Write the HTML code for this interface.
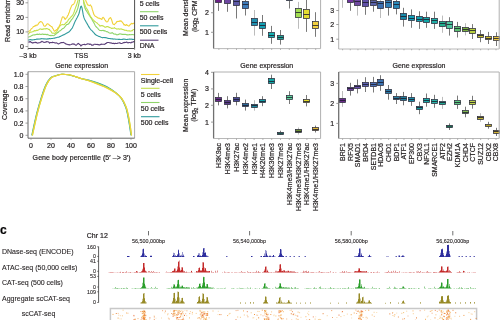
<!DOCTYPE html>
<html><head><meta charset="utf-8"><style>
html,body{margin:0;padding:0;background:#fff;}
svg{display:block;font-family:"Liberation Sans", sans-serif;will-change:transform;}
text{stroke:#231f20;stroke-width:0.2px;}
</style></head><body>
<svg width="500" height="320" viewBox="0 0 500 320">
<defs>
<clipPath id="clipA"><rect x="28" y="0" width="106.6" height="48.5"/></clipPath>
<clipPath id="clipP1"><rect x="0" y="0" width="500" height="48.5"/></clipPath>
</defs>
<rect width="500" height="320" fill="#fff"/>
<g clip-path="url(#clipA)">
<polyline points="28.00,42.20 28.60,42.05 29.20,41.68 29.80,42.18 30.40,41.49 31.00,42.06 31.60,42.67 32.20,42.54 32.80,43.14 33.40,42.53 34.00,42.74 34.60,42.54 35.20,42.10 35.80,42.60 36.40,42.42 37.00,42.95 37.60,43.09 38.20,42.93 38.80,42.68 39.40,42.81 40.00,42.73 40.60,42.13 41.20,42.04 41.80,41.34 42.40,41.62 43.00,41.80 43.60,42.30 44.20,42.42 44.80,42.29 45.40,42.16 46.00,42.19 46.60,41.52 47.20,41.70 47.80,41.79 48.40,42.07 49.00,42.34 49.60,43.20 50.20,42.59 50.80,42.56 51.40,42.53 52.00,42.74 52.60,42.16 53.20,42.46 53.80,42.54 54.40,42.79 55.00,42.90 55.60,43.09 56.20,42.78 56.80,43.04 57.40,43.19 58.00,43.78 58.60,44.04 59.20,43.64 59.80,43.28 60.40,42.95 61.00,42.60 61.60,42.44 62.20,42.61 62.80,42.46 63.40,42.36 64.00,42.78 64.60,43.02 65.20,43.45 65.80,44.02 66.40,44.10 67.00,44.20 67.60,44.51 68.20,44.79 68.80,44.54 69.40,45.04 70.00,44.79 70.60,44.71 71.20,44.49 71.80,44.13 72.40,44.09 73.00,43.81 73.60,44.16 74.20,44.09 74.80,44.46 75.40,44.94 76.00,45.27 76.60,44.94 77.20,44.26 77.80,43.75 78.40,43.41 79.00,43.86 79.60,44.56 80.20,44.79 80.80,45.95 81.40,45.50 82.00,44.89 82.60,44.72 83.20,44.53 83.80,44.51 84.40,44.28 85.00,44.77 85.60,44.78 86.20,44.33 86.80,44.28 87.40,43.90 88.00,43.83 88.60,44.06 89.20,44.05 89.80,44.54 90.40,44.10 91.00,44.24 91.60,45.21 92.20,45.14 92.80,45.10 93.40,45.04 94.00,44.27 94.60,44.29 95.20,44.27 95.80,44.38 96.40,44.45 97.00,44.32 97.60,44.59 98.20,44.45 98.80,44.92 99.40,44.73 100.00,44.92 100.60,44.39 101.20,44.12 101.80,44.38 102.40,44.32 103.00,44.26 103.60,44.27 104.20,44.33 104.80,44.31 105.40,43.59 106.00,43.50 106.60,43.05 107.20,42.48 107.80,42.43 108.40,42.57 109.00,42.51 109.60,42.80 110.20,43.05 110.80,42.71 111.40,43.14 112.00,43.23 112.60,43.45 113.20,43.24 113.80,43.37 114.40,43.62 115.00,43.44 115.60,43.29 116.20,43.46 116.80,43.51 117.40,43.38 118.00,43.01 118.60,43.06 119.20,43.07 119.80,42.63 120.40,43.18 121.00,43.47 121.60,43.46 122.20,43.29 122.80,42.94 123.40,42.56 124.00,42.88 124.60,42.37 125.20,42.57 125.80,42.54 126.40,41.94 127.00,42.15 127.60,42.78 128.20,42.83 128.80,42.63 129.40,42.51 130.00,42.45 130.60,42.95 131.20,42.80 131.80,42.02 132.40,42.27 133.00,42.12 133.60,41.60 134.20,41.52 134.80,41.84" fill="none" stroke="#5b3f78" stroke-width="1.1" stroke-linejoin="round"/>
<polyline points="28.00,40.11 28.60,40.05 29.20,39.83 29.80,39.77 30.40,39.64 31.00,39.73 31.60,39.85 32.20,39.88 32.80,39.98 33.40,39.82 34.00,39.80 34.60,39.60 35.20,39.51 35.80,39.42 36.40,39.16 37.00,39.14 37.60,39.15 38.20,39.13 38.80,38.97 39.40,38.99 40.00,39.09 40.60,38.87 41.20,38.80 41.80,38.65 42.40,38.70 43.00,38.80 43.60,38.91 44.20,38.81 44.80,39.03 45.40,39.02 46.00,38.90 46.60,39.09 47.20,39.11 47.80,38.83 48.40,38.90 49.00,38.66 49.60,38.56 50.20,38.68 50.80,38.62 51.40,38.43 52.00,38.46 52.60,38.43 53.20,38.32 53.80,38.21 54.40,38.14 55.00,38.10 55.60,37.78 56.20,37.74 56.80,37.52 57.40,37.29 58.00,37.21 58.60,37.13 59.20,36.93 59.80,36.52 60.40,36.44 61.00,36.08 61.60,35.81 62.20,35.36 62.80,35.16 63.40,34.87 64.00,34.81 64.60,34.36 65.20,33.97 65.80,33.65 66.40,33.36 67.00,33.08 67.60,32.65 68.20,32.31 68.80,32.15 69.40,31.47 70.00,30.88 70.60,30.06 71.20,29.28 71.80,28.67 72.40,27.67 73.00,26.36 73.60,25.12 74.20,23.53 74.80,22.13 75.40,20.70 76.00,19.73 76.60,18.45 77.20,17.56 77.80,16.33 78.40,15.06 79.00,13.50 79.60,11.24 80.20,8.54 80.80,6.52 81.40,6.14 82.00,7.76 82.60,11.05 83.20,14.70 83.80,17.16 84.40,18.73 85.00,20.03 85.60,21.10 86.20,22.25 86.80,23.14 87.40,24.23 88.00,25.27 88.60,26.40 89.20,27.34 89.80,28.31 90.40,29.01 91.00,29.80 91.60,30.37 92.20,30.88 92.80,31.54 93.40,32.39 94.00,32.89 94.60,33.74 95.20,34.28 95.80,34.77 96.40,35.26 97.00,35.51 97.60,35.83 98.20,36.13 98.80,36.42 99.40,36.45 100.00,36.73 100.60,37.00 101.20,37.26 101.80,37.45 102.40,37.68 103.00,37.59 103.60,37.57 104.20,37.51 104.80,37.63 105.40,37.63 106.00,37.72 106.60,37.83 107.20,38.14 107.80,38.28 108.40,38.38 109.00,38.43 109.60,38.56 110.20,38.64 110.80,38.74 111.40,38.73 112.00,38.85 112.60,38.85 113.20,39.05 113.80,39.08 114.40,39.00 115.00,39.02 115.60,39.28 116.20,39.19 116.80,39.27 117.40,39.21 118.00,39.33 118.60,39.38 119.20,39.41 119.80,39.39 120.40,39.51 121.00,39.44 121.60,39.54 122.20,39.39 122.80,39.34 123.40,39.14 124.00,39.01 124.60,39.16 125.20,39.21 125.80,39.37 126.40,39.43 127.00,39.43 127.60,39.34 128.20,39.29 128.80,39.27 129.40,39.15 130.00,39.13 130.60,39.29 131.20,39.08 131.80,39.30 132.40,39.36 133.00,39.30 133.60,39.57 134.20,39.54 134.80,39.43" fill="none" stroke="#2f9a9c" stroke-width="1.1" stroke-linejoin="round"/>
<polyline points="28.00,37.02 28.60,37.15 29.20,36.79 29.80,36.79 30.40,36.36 31.00,35.96 31.60,35.64 32.20,35.43 32.80,35.01 33.40,34.97 34.00,34.74 34.60,34.84 35.20,34.79 35.80,34.63 36.40,34.29 37.00,34.55 37.60,34.05 38.20,34.46 38.80,34.46 39.40,34.00 40.00,34.28 40.60,34.40 41.20,34.44 41.80,34.16 42.40,34.07 43.00,34.09 43.60,34.54 44.20,34.23 44.80,34.51 45.40,34.27 46.00,34.47 46.60,34.69 47.20,34.24 47.80,34.79 48.40,34.82 49.00,35.26 49.60,35.44 50.20,35.29 50.80,35.73 51.40,35.59 52.00,35.39 52.60,35.43 53.20,35.67 53.80,35.53 54.40,35.23 55.00,34.70 55.60,34.32 56.20,33.78 56.80,33.50 57.40,32.58 58.00,32.46 58.60,31.97 59.20,31.05 59.80,31.03 60.40,30.46 61.00,30.10 61.60,29.32 62.20,28.95 62.80,28.56 63.40,28.47 64.00,27.83 64.60,27.07 65.20,26.44 65.80,25.68 66.40,24.86 67.00,24.54 67.60,24.56 68.20,23.90 68.80,23.84 69.40,22.67 70.00,21.84 70.60,21.11 71.20,20.04 71.80,19.33 72.40,18.79 73.00,17.84 73.60,16.83 74.20,15.70 74.80,14.77 75.40,13.73 76.00,12.55 76.60,11.57 77.20,9.86 77.80,8.37 78.40,5.83 79.00,3.04 79.60,-0.46 80.20,-6.35 80.80,-8.90 81.40,-9.57 82.00,-10.43 82.60,-9.72 83.20,-6.55 83.80,3.42 84.40,6.22 85.00,8.31 85.60,9.47 86.20,10.64 86.80,11.33 87.40,12.44 88.00,13.43 88.60,14.24 89.20,15.10 89.80,15.95 90.40,17.12 91.00,17.82 91.60,18.61 92.20,19.95 92.80,21.07 93.40,21.97 94.00,23.05 94.60,24.31 95.20,25.45 95.80,26.43 96.40,27.01 97.00,27.63 97.60,27.99 98.20,28.87 98.80,29.68 99.40,30.18 100.00,30.52 100.60,30.56 101.20,30.61 101.80,30.50 102.40,30.44 103.00,30.35 103.60,30.52 104.20,30.96 104.80,30.61 105.40,31.06 106.00,31.37 106.60,31.74 107.20,31.63 107.80,32.00 108.40,32.31 109.00,32.72 109.60,33.06 110.20,33.26 110.80,33.14 111.40,33.08 112.00,32.56 112.60,32.88 113.20,33.54 113.80,33.94 114.40,34.01 115.00,34.24 115.60,34.09 116.20,34.45 116.80,34.88 117.40,34.70 118.00,34.58 118.60,34.50 119.20,33.98 119.80,33.90 120.40,33.91 121.00,34.09 121.60,34.16 122.20,34.36 122.80,34.30 123.40,34.33 124.00,34.45 124.60,34.38 125.20,34.53 125.80,34.35 126.40,34.83 127.00,34.58 127.60,34.98 128.20,34.88 128.80,34.74 129.40,34.59 130.00,34.61 130.60,34.76 131.20,34.74 131.80,34.45 132.40,34.44 133.00,34.70 133.60,34.74 134.20,34.44 134.80,34.15" fill="none" stroke="#8fd46a" stroke-width="1.1" stroke-linejoin="round"/>
<polyline points="28.00,34.65 28.60,33.60 29.20,32.99 29.80,32.43 30.40,32.06 31.00,32.17 31.60,31.98 32.20,31.71 32.80,31.70 33.40,31.45 34.00,30.90 34.60,30.62 35.20,30.87 35.80,30.71 36.40,30.24 37.00,30.58 37.60,30.38 38.20,30.02 38.80,29.67 39.40,29.26 40.00,28.89 40.60,29.04 41.20,29.11 41.80,29.52 42.40,29.10 43.00,29.42 43.60,28.80 44.20,28.75 44.80,28.91 45.40,28.88 46.00,28.64 46.60,28.43 47.20,28.72 47.80,28.82 48.40,29.35 49.00,29.23 49.60,29.71 50.20,30.77 50.80,31.02 51.40,32.02 52.00,33.01 52.60,33.27 53.20,33.06 53.80,33.18 54.40,33.19 55.00,33.48 55.60,32.68 56.20,32.30 56.80,31.51 57.40,30.18 58.00,29.05 58.60,28.32 59.20,26.99 59.80,26.04 60.40,25.68 61.00,24.99 61.60,24.72 62.20,24.36 62.80,24.73 63.40,24.80 64.00,24.60 64.60,24.49 65.20,23.52 65.80,23.03 66.40,22.47 67.00,22.04 67.60,21.28 68.20,20.15 68.80,19.24 69.40,18.73 70.00,18.12 70.60,17.70 71.20,16.57 71.80,16.17 72.40,15.34 73.00,14.49 73.60,13.42 74.20,11.76 74.80,9.91 75.40,8.15 76.00,6.41 76.60,5.04 77.20,2.85 77.80,0.93 78.40,-1.11 79.00,-5.95 79.60,-8.98 80.20,-9.73 80.80,-9.71 81.40,-9.76 82.00,-8.78 82.60,-7.48 83.20,-0.47 83.80,1.66 84.40,3.45 85.00,5.04 85.60,6.67 86.20,7.80 86.80,8.69 87.40,9.62 88.00,10.74 88.60,12.29 89.20,13.70 89.80,15.06 90.40,16.38 91.00,17.18 91.60,17.70 92.20,18.92 92.80,19.35 93.40,20.15 94.00,20.63 94.60,21.40 95.20,21.61 95.80,22.11 96.40,22.55 97.00,22.91 97.60,23.67 98.20,24.18 98.80,24.65 99.40,25.26 100.00,26.16 100.60,25.82 101.20,25.60 101.80,25.84 102.40,25.63 103.00,26.19 103.60,26.02 104.20,26.62 104.80,27.21 105.40,27.14 106.00,27.11 106.60,26.52 107.20,26.59 107.80,26.64 108.40,26.82 109.00,27.42 109.60,27.29 110.20,27.82 110.80,27.79 111.40,28.38 112.00,28.41 112.60,28.15 113.20,28.30 113.80,28.25 114.40,27.60 115.00,28.22 115.60,28.58 116.20,28.69 116.80,29.15 117.40,28.94 118.00,28.92 118.60,28.90 119.20,29.08 119.80,29.15 120.40,28.93 121.00,28.87 121.60,29.10 122.20,29.50 122.80,29.39 123.40,29.64 124.00,29.73 124.60,30.29 125.20,30.33 125.80,30.20 126.40,30.35 127.00,30.65 127.60,30.85 128.20,30.98 128.80,30.72 129.40,30.83 130.00,31.20 130.60,31.07 131.20,31.04 131.80,30.63 132.40,30.59 133.00,29.79 133.60,29.53 134.20,29.45 134.80,29.56" fill="none" stroke="#c4e04a" stroke-width="1.1" stroke-linejoin="round"/>
<polyline points="28.00,31.78 28.60,31.40 29.20,31.12 29.80,30.78 30.40,30.25 31.00,29.20 31.60,28.49 32.20,28.10 32.80,27.55 33.40,26.49 34.00,26.56 34.60,26.35 35.20,25.33 35.80,25.85 36.40,25.08 37.00,25.23 37.60,24.95 38.20,24.17 38.80,23.11 39.40,22.49 40.00,22.00 40.60,21.57 41.20,21.72 41.80,21.99 42.40,22.69 43.00,23.73 43.60,25.38 44.20,26.03 44.80,26.24 45.40,26.11 46.00,25.46 46.60,24.52 47.20,23.70 47.80,24.02 48.40,24.06 49.00,24.63 49.60,25.57 50.20,25.62 50.80,26.24 51.40,26.62 52.00,26.70 52.60,28.26 53.20,28.90 53.80,30.42 54.40,31.27 55.00,31.05 55.60,30.35 56.20,30.20 56.80,29.43 57.40,29.16 58.00,27.64 58.60,27.24 59.20,26.27 59.80,24.98 60.40,23.68 61.00,21.11 61.60,19.41 62.20,17.33 62.80,16.77 63.40,16.92 64.00,17.27 64.60,18.70 65.20,19.41 65.80,18.48 66.40,17.93 67.00,17.30 67.60,15.67 68.20,15.03 68.80,13.29 69.40,11.97 70.00,9.73 70.60,8.26 71.20,6.87 71.80,5.43 72.40,4.77 73.00,4.63 73.60,4.29 74.20,3.28 74.80,2.16 75.40,-0.21 76.00,-3.43 76.60,-6.95 77.20,-8.04 77.80,-9.10 78.40,-8.95 79.00,-10.01 79.60,-10.07 80.20,-10.27 80.80,-10.68 81.40,-10.06 82.00,-10.01 82.60,-9.59 83.20,-8.86 83.80,-8.86 84.40,-6.56 85.00,-2.97 85.60,-0.04 86.20,1.87 86.80,2.76 87.40,4.45 88.00,5.08 88.60,5.10 89.20,5.62 89.80,5.41 90.40,4.80 91.00,5.82 91.60,6.65 92.20,9.19 92.80,10.82 93.40,13.03 94.00,14.73 94.60,15.38 95.20,16.25 95.80,16.55 96.40,16.80 97.00,17.27 97.60,17.81 98.20,18.12 98.80,17.98 99.40,18.19 100.00,18.72 100.60,18.67 101.20,19.11 101.80,19.42 102.40,17.93 103.00,17.28 103.60,17.81 104.20,18.47 104.80,19.76 105.40,20.39 106.00,21.39 106.60,21.93 107.20,21.86 107.80,21.56 108.40,20.32 109.00,18.80 109.60,18.43 110.20,17.51 110.80,17.98 111.40,19.16 112.00,21.02 112.60,23.11 113.20,24.20 113.80,24.42 114.40,24.64 115.00,23.80 115.60,23.55 116.20,22.66 116.80,21.63 117.40,21.62 118.00,21.26 118.60,21.55 119.20,21.41 119.80,20.75 120.40,21.23 121.00,20.72 121.60,21.47 122.20,22.13 122.80,22.83 123.40,23.55 124.00,24.97 124.60,24.60 125.20,25.15 125.80,25.40 126.40,24.50 127.00,24.94 127.60,25.60 128.20,25.79 128.80,26.11 129.40,25.75 130.00,24.70 130.60,24.25 131.20,23.67 131.80,23.31 132.40,23.84 133.00,23.61 133.60,23.44 134.20,22.92 134.80,23.77" fill="none" stroke="#f2d23a" stroke-width="1.1" stroke-linejoin="round"/>
</g>
<line x1="28.0" y1="0" x2="28.0" y2="48.5" stroke="#b0b0b0" stroke-width="0.8"/>
<line x1="28.0" y1="48.5" x2="134.6" y2="48.5" stroke="#3a3a3a" stroke-width="0.9"/>
<line x1="134.6" y1="0" x2="134.6" y2="48.5" stroke="#3a3a3a" stroke-width="0.9"/>
<line x1="25.5" y1="46.5" x2="28.0" y2="46.5" stroke="#888" stroke-width="0.8"/>
<text x="24" y="49.0" font-size="7" text-anchor="end" fill="#231f20" font-weight="normal">0</text>
<line x1="25.5" y1="31.9" x2="28.0" y2="31.9" stroke="#888" stroke-width="0.8"/>
<text x="24" y="34.4" font-size="7" text-anchor="end" fill="#231f20" font-weight="normal">10</text>
<line x1="25.5" y1="17.4" x2="28.0" y2="17.4" stroke="#888" stroke-width="0.8"/>
<text x="24" y="19.9" font-size="7" text-anchor="end" fill="#231f20" font-weight="normal">20</text>
<line x1="25.5" y1="2.8" x2="28.0" y2="2.8" stroke="#888" stroke-width="0.8"/>
<text x="24" y="5.3" font-size="7" text-anchor="end" fill="#231f20" font-weight="normal">30</text>
<line x1="28.0" y1="48.5" x2="28.0" y2="50.0" stroke="#888" stroke-width="0.8"/>
<line x1="81.4" y1="48.5" x2="81.4" y2="50.0" stroke="#888" stroke-width="0.8"/>
<line x1="134.6" y1="48.5" x2="134.6" y2="50.0" stroke="#888" stroke-width="0.8"/>
<text x="28" y="57.9" font-size="7" text-anchor="middle" fill="#231f20" font-weight="normal">–3 kb</text>
<text x="81.4" y="57.9" font-size="7" text-anchor="middle" fill="#231f20" font-weight="normal">TSS</text>
<text x="134.4" y="57.9" font-size="7" text-anchor="middle" fill="#231f20" font-weight="normal">3 kb</text>
<text x="10.5" y="41.9" font-size="7" text-anchor="start" fill="#231f20" font-weight="normal" transform="rotate(-90 10.5 41.9)">Read enrichment</text>
<line x1="140" y1="-2.5" x2="158.5" y2="-2.5" stroke="#c4e04a" stroke-width="1.1"/>
<line x1="140" y1="11.7" x2="158.5" y2="11.7" stroke="#8fd46a" stroke-width="1.1"/>
<line x1="140" y1="25.8" x2="158.5" y2="25.8" stroke="#2f9a9c" stroke-width="1.1"/>
<line x1="140" y1="40.2" x2="158.5" y2="40.2" stroke="#5b3f78" stroke-width="1.1"/>
<text x="139.7" y="5.8" font-size="7" text-anchor="start" fill="#231f20" font-weight="normal">5 cells</text>
<text x="139.7" y="20.1" font-size="7" text-anchor="start" fill="#231f20" font-weight="normal">50 cells</text>
<text x="139.7" y="34.4" font-size="7" text-anchor="start" fill="#231f20" font-weight="normal">500 cells</text>
<text x="139.7" y="47.7" font-size="7" text-anchor="start" fill="#231f20" font-weight="normal">DNA</text>
<text x="81.6" y="68.4" font-size="7" text-anchor="middle" fill="#231f20" font-weight="normal">Gene expression</text>
<path d="M31.799999999999997,135.2999999997482 C32.63,131.58 35.22,119.33 36.80,113.00 C38.38,106.67 39.80,101.98 41.30,97.30 C42.80,92.62 44.30,88.10 45.80,84.90 C47.30,81.70 48.80,79.60 50.30,78.10 C51.80,76.60 52.93,76.53 54.80,75.90 C56.67,75.27 59.25,74.48 61.50,74.30 C63.75,74.12 66.05,74.42 68.30,74.80 C70.55,75.17 72.75,75.92 75.00,76.57 C77.25,77.22 79.55,78.10 81.80,78.69 C84.05,79.28 85.88,79.44 88.50,80.12 C91.12,80.79 94.50,81.67 97.50,82.74 C100.50,83.82 103.50,84.93 106.50,86.56 C109.50,88.20 113.05,90.59 115.50,92.55 C117.95,94.50 119.50,95.83 121.20,98.29 C122.90,100.76 124.58,104.34 125.70,107.36 C126.82,110.37 127.27,113.37 127.90,116.37 C128.53,119.38 129.00,122.23 129.50,125.38 C130.00,128.53 130.67,133.64 130.90,135.29" fill="none" stroke="#2f9a9c" stroke-width="1.1"/>
<path d="M32.099999999999994,135.300000000042 C32.93,131.58 35.52,119.33 37.10,113.00 C38.68,106.67 40.10,101.98 41.60,97.30 C43.10,92.62 44.60,88.10 46.10,84.90 C47.60,81.70 49.10,79.60 50.60,78.10 C52.10,76.60 53.23,76.53 55.10,75.90 C56.97,75.27 59.55,74.48 61.80,74.30 C64.05,74.12 66.35,74.42 68.60,74.80 C70.85,75.18 73.05,75.93 75.30,76.60 C77.55,77.27 79.85,78.18 82.10,78.82 C84.35,79.46 86.18,79.68 88.80,80.45 C91.42,81.21 94.80,82.27 97.80,83.39 C100.80,84.52 103.80,85.61 106.80,87.19 C109.80,88.76 113.35,90.97 115.80,92.84 C118.25,94.71 119.80,95.99 121.50,98.42 C123.20,100.85 124.88,104.41 126.00,107.41 C127.12,110.41 127.57,113.41 128.20,116.40 C128.83,119.40 129.30,122.25 129.80,125.40 C130.30,128.55 130.97,133.65 131.20,135.30" fill="none" stroke="#8fd46a" stroke-width="1.1"/>
<path d="M32.5,135.30000000033576 C33.33,131.58 35.92,119.33 37.50,113.00 C39.08,106.67 40.50,101.98 42.00,97.30 C43.50,92.62 45.00,88.10 46.50,84.90 C48.00,81.70 49.50,79.60 51.00,78.10 C52.50,76.60 53.63,76.53 55.50,75.90 C57.37,75.27 59.95,74.48 62.20,74.30 C64.45,74.12 66.75,74.42 69.00,74.81 C71.25,75.20 73.45,75.95 75.70,76.64 C77.95,77.32 80.25,78.25 82.50,78.94 C84.75,79.63 86.58,79.93 89.20,80.78 C91.82,81.63 95.20,82.87 98.20,84.05 C101.20,85.22 104.20,86.30 107.20,87.82 C110.20,89.33 113.75,91.35 116.20,93.13 C118.65,94.92 120.20,96.16 121.90,98.54 C123.60,100.93 125.28,104.48 126.40,107.46 C127.52,110.44 127.97,113.44 128.60,116.44 C129.23,119.43 129.70,122.28 130.20,125.42 C130.70,128.57 131.37,133.67 131.60,135.32" fill="none" stroke="#c4e04a" stroke-width="1.1"/>
<path d="M32.4,135.30000000050364 C33.23,131.58 35.82,119.33 37.40,113.00 C38.98,106.67 40.40,101.98 41.90,97.30 C43.40,92.62 44.90,88.10 46.40,84.90 C47.90,81.70 49.40,79.60 50.90,78.10 C52.40,76.60 53.53,76.53 55.40,75.90 C57.27,75.27 59.85,74.48 62.10,74.30 C64.35,74.12 66.65,74.42 68.90,74.81 C71.15,75.20 73.35,75.95 75.60,76.65 C77.85,77.35 80.15,78.29 82.40,79.01 C84.65,79.73 86.48,80.07 89.10,80.97 C91.72,81.87 95.10,83.22 98.10,84.42 C101.10,85.62 104.10,86.69 107.10,88.17 C110.10,89.65 113.65,91.56 116.10,93.30 C118.55,95.04 120.10,96.25 121.80,98.61 C123.50,100.98 125.18,104.52 126.30,107.49 C127.42,110.46 127.87,113.46 128.50,116.45 C129.13,119.45 129.60,122.29 130.10,125.44 C130.60,128.58 131.27,133.68 131.50,135.33" fill="none" stroke="#f2d23a" stroke-width="1.1"/>
<line x1="28.0" y1="71.7" x2="134.6" y2="71.7" stroke="#a0a0a0" stroke-width="0.9"/>
<line x1="134.6" y1="71.7" x2="134.6" y2="138.2" stroke="#a0a0a0" stroke-width="0.9"/>
<line x1="28.0" y1="71.7" x2="28.0" y2="138.2" stroke="#555" stroke-width="0.9"/>
<line x1="28.0" y1="138.2" x2="134.6" y2="138.2" stroke="#555" stroke-width="0.9"/>
<line x1="25.5" y1="74.3" x2="28.0" y2="74.3" stroke="#888" stroke-width="0.8"/>
<text x="23.5" y="76.8" font-size="7" text-anchor="end" fill="#231f20" font-weight="normal">1.0</text>
<line x1="25.5" y1="86.5" x2="28.0" y2="86.5" stroke="#888" stroke-width="0.8"/>
<text x="23.5" y="89.0" font-size="7" text-anchor="end" fill="#231f20" font-weight="normal">0.8</text>
<line x1="25.5" y1="98.69999999999999" x2="28.0" y2="98.69999999999999" stroke="#888" stroke-width="0.8"/>
<text x="23.5" y="101.19999999999999" font-size="7" text-anchor="end" fill="#231f20" font-weight="normal">0.6</text>
<line x1="25.5" y1="110.89999999999999" x2="28.0" y2="110.89999999999999" stroke="#888" stroke-width="0.8"/>
<text x="23.5" y="113.39999999999999" font-size="7" text-anchor="end" fill="#231f20" font-weight="normal">0.4</text>
<line x1="25.5" y1="123.1" x2="28.0" y2="123.1" stroke="#888" stroke-width="0.8"/>
<text x="23.5" y="125.6" font-size="7" text-anchor="end" fill="#231f20" font-weight="normal">0.2</text>
<line x1="25.5" y1="135.3" x2="28.0" y2="135.3" stroke="#888" stroke-width="0.8"/>
<text x="23.5" y="137.8" font-size="7" text-anchor="end" fill="#231f20" font-weight="normal">0</text>
<line x1="31" y1="138.2" x2="31" y2="139.7" stroke="#888" stroke-width="0.8"/>
<text x="31" y="148.1" font-size="7" text-anchor="middle" fill="#231f20" font-weight="normal">0</text>
<line x1="51" y1="138.2" x2="51" y2="139.7" stroke="#888" stroke-width="0.8"/>
<text x="51" y="148.1" font-size="7" text-anchor="middle" fill="#231f20" font-weight="normal">20</text>
<line x1="71" y1="138.2" x2="71" y2="139.7" stroke="#888" stroke-width="0.8"/>
<text x="71" y="148.1" font-size="7" text-anchor="middle" fill="#231f20" font-weight="normal">40</text>
<line x1="91" y1="138.2" x2="91" y2="139.7" stroke="#888" stroke-width="0.8"/>
<text x="91" y="148.1" font-size="7" text-anchor="middle" fill="#231f20" font-weight="normal">60</text>
<line x1="111" y1="138.2" x2="111" y2="139.7" stroke="#888" stroke-width="0.8"/>
<text x="111" y="148.1" font-size="7" text-anchor="middle" fill="#231f20" font-weight="normal">80</text>
<line x1="131" y1="138.2" x2="131" y2="139.7" stroke="#888" stroke-width="0.8"/>
<text x="131" y="148.1" font-size="7" text-anchor="middle" fill="#231f20" font-weight="normal">100</text>
<text x="81.6" y="159.8" font-size="7" text-anchor="middle" fill="#231f20" font-weight="normal" textLength="98" lengthAdjust="spacing">Gene body percentile (5′ –&gt; 3′)</text>
<text x="7.0" y="104.8" font-size="7" text-anchor="middle" fill="#231f20" font-weight="normal" transform="rotate(-90 7.0 104.8)">Coverage</text>
<line x1="141" y1="74.5" x2="159.5" y2="74.5" stroke="#f2d23a" stroke-width="1.1"/>
<line x1="141" y1="88.3" x2="159.5" y2="88.3" stroke="#c4e04a" stroke-width="1.1"/>
<line x1="141" y1="102.5" x2="159.5" y2="102.5" stroke="#8fd46a" stroke-width="1.1"/>
<line x1="141" y1="116.7" x2="159.5" y2="116.7" stroke="#2f9a9c" stroke-width="1.1"/>
<text x="140.8" y="83" font-size="7" text-anchor="start" fill="#231f20" font-weight="normal">Single-cell</text>
<text x="140.8" y="97" font-size="7" text-anchor="start" fill="#231f20" font-weight="normal">5 cells</text>
<text x="140.8" y="111.2" font-size="7" text-anchor="start" fill="#231f20" font-weight="normal">50 cells</text>
<text x="140.8" y="125" font-size="7" text-anchor="start" fill="#231f20" font-weight="normal">500 cells</text>
<g clip-path="url(#clipP1)">
<line x1="218.5" y1="-20" x2="218.5" y2="-10" stroke="#6a6a6a" stroke-width="0.9"/>
<line x1="218.5" y1="2.5" x2="218.5" y2="10.9" stroke="#6a6a6a" stroke-width="0.9"/>
<rect x="215.50" y="-9.5" width="6.0" height="12.00" fill="#6a1f85" stroke="#2a2a3a" stroke-width="0.75"/>
<line x1="215.5" y1="-2.5" x2="221.5" y2="-2.5" stroke="#1a1a2a" stroke-width="0.8"/>
<line x1="227.5" y1="-20" x2="227.5" y2="-10" stroke="#6a6a6a" stroke-width="0.9"/>
<line x1="227.5" y1="3.5" x2="227.5" y2="11.8" stroke="#6a6a6a" stroke-width="0.9"/>
<rect x="224.50" y="-9.5" width="6.0" height="13.00" fill="#6e46a2" stroke="#2a2a3a" stroke-width="0.75"/>
<line x1="224.5" y1="-2.5" x2="230.5" y2="-2.5" stroke="#1a1a2a" stroke-width="0.8"/>
<line x1="236.5" y1="-20" x2="236.5" y2="-6" stroke="#6a6a6a" stroke-width="0.9"/>
<line x1="236.5" y1="5.4" x2="236.5" y2="18.5" stroke="#6a6a6a" stroke-width="0.9"/>
<rect x="233.50" y="-5.5" width="6.0" height="11.00" fill="#5e5aa8" stroke="#2a2a3a" stroke-width="0.75"/>
<line x1="233.5" y1="1.5" x2="239.5" y2="1.5" stroke="#1a1a2a" stroke-width="0.8"/>
<line x1="245.5" y1="-2" x2="245.5" y2="1" stroke="#6a6a6a" stroke-width="0.9"/>
<line x1="245.5" y1="8.4" x2="245.5" y2="15.5" stroke="#6a6a6a" stroke-width="0.9"/>
<rect x="242.50" y="1.5" width="6.0" height="7.00" fill="#3d7ab8" stroke="#2a2a3a" stroke-width="0.75"/>
<line x1="242.5" y1="4.5" x2="248.5" y2="4.5" stroke="#1a1a2a" stroke-width="0.8"/>
<line x1="254.5" y1="10" x2="254.5" y2="18.3" stroke="#b4b4b4" stroke-width="0.9"/>
<line x1="254.5" y1="25.7" x2="254.5" y2="35.6" stroke="#b4b4b4" stroke-width="0.9"/>
<rect x="251.50" y="18.5" width="6.0" height="7.00" fill="#2090b0" stroke="#2a2a3a" stroke-width="0.75"/>
<line x1="251.5" y1="22.5" x2="257.5" y2="22.5" stroke="#1a1a2a" stroke-width="0.8"/>
<line x1="262.5" y1="15" x2="262.5" y2="22.5" stroke="#6a6a6a" stroke-width="0.9"/>
<line x1="262.5" y1="28" x2="262.5" y2="35.8" stroke="#6a6a6a" stroke-width="0.9"/>
<rect x="259.50" y="22.5" width="6.0" height="6.00" fill="#12a0b4" stroke="#2a2a3a" stroke-width="0.75"/>
<line x1="259.5" y1="25.5" x2="265.5" y2="25.5" stroke="#1a1a2a" stroke-width="0.8"/>
<line x1="271.5" y1="25.9" x2="271.5" y2="32.3" stroke="#6a6a6a" stroke-width="0.9"/>
<line x1="271.5" y1="37.4" x2="271.5" y2="43.8" stroke="#6a6a6a" stroke-width="0.9"/>
<rect x="268.50" y="32.5" width="6.0" height="5.00" fill="#14b0b0" stroke="#2a2a3a" stroke-width="0.75"/>
<line x1="268.5" y1="35.5" x2="274.5" y2="35.5" stroke="#1a1a2a" stroke-width="0.8"/>
<line x1="280.5" y1="30" x2="280.5" y2="35.3" stroke="#6a6a6a" stroke-width="0.9"/>
<line x1="280.5" y1="39.7" x2="280.5" y2="44.6" stroke="#6a6a6a" stroke-width="0.9"/>
<rect x="277.50" y="35.5" width="6.0" height="4.00" fill="#20a898" stroke="#2a2a3a" stroke-width="0.75"/>
<line x1="277.5" y1="37.5" x2="283.5" y2="37.5" stroke="#1a1a2a" stroke-width="0.8"/>
<line x1="289.5" y1="-20" x2="289.5" y2="-8" stroke="#6a6a6a" stroke-width="0.9"/>
<line x1="289.5" y1="0.8" x2="289.5" y2="8.5" stroke="#6a6a6a" stroke-width="0.9"/>
<rect x="286.50" y="-7.5" width="6.0" height="8.00" fill="#3f6f6a" stroke="#2a2a3a" stroke-width="0.75"/>
<line x1="286.5" y1="-2.5" x2="292.5" y2="-2.5" stroke="#1a1a2a" stroke-width="0.8"/>
<line x1="298.5" y1="1.9" x2="298.5" y2="8" stroke="#b4b4b4" stroke-width="0.9"/>
<line x1="298.5" y1="17.8" x2="298.5" y2="28.8" stroke="#b4b4b4" stroke-width="0.9"/>
<rect x="295.50" y="8.5" width="6.0" height="9.00" fill="#a2de52" stroke="#2a2a3a" stroke-width="0.75"/>
<line x1="295.5" y1="12.5" x2="301.5" y2="12.5" stroke="#1a1a2a" stroke-width="0.8"/>
<line x1="306.5" y1="-5" x2="306.5" y2="9.1" stroke="#6a6a6a" stroke-width="0.9"/>
<line x1="306.5" y1="18.3" x2="306.5" y2="31.9" stroke="#6a6a6a" stroke-width="0.9"/>
<rect x="303.50" y="9.5" width="6.0" height="9.00" fill="#e4dc30" stroke="#2a2a3a" stroke-width="0.75"/>
<line x1="303.5" y1="14.5" x2="309.5" y2="14.5" stroke="#1a1a2a" stroke-width="0.8"/>
<line x1="315.5" y1="12.2" x2="315.5" y2="21.3" stroke="#6a6a6a" stroke-width="0.9"/>
<line x1="315.5" y1="28.7" x2="315.5" y2="36.8" stroke="#6a6a6a" stroke-width="0.9"/>
<rect x="312.50" y="21.5" width="6.0" height="7.00" fill="#f2d040" stroke="#2a2a3a" stroke-width="0.75"/>
<line x1="312.5" y1="25.5" x2="318.5" y2="25.5" stroke="#1a1a2a" stroke-width="0.8"/>
</g>
<line x1="213.6" y1="0" x2="213.6" y2="48.6" stroke="#707070" stroke-width="1.3"/>
<line x1="213.6" y1="48.6" x2="320.6" y2="48.6" stroke="#b0b0b0" stroke-width="0.9"/>
<line x1="320.6" y1="0" x2="320.6" y2="48.6" stroke="#b0b0b0" stroke-width="1.0"/>
<line x1="218.9" y1="48.6" x2="218.9" y2="50" stroke="#999" stroke-width="0.7"/>
<line x1="227.70000000000002" y1="48.6" x2="227.70000000000002" y2="50" stroke="#999" stroke-width="0.7"/>
<line x1="236.5" y1="48.6" x2="236.5" y2="50" stroke="#999" stroke-width="0.7"/>
<line x1="245.3" y1="48.6" x2="245.3" y2="50" stroke="#999" stroke-width="0.7"/>
<line x1="254.10000000000002" y1="48.6" x2="254.10000000000002" y2="50" stroke="#999" stroke-width="0.7"/>
<line x1="262.9" y1="48.6" x2="262.9" y2="50" stroke="#999" stroke-width="0.7"/>
<line x1="271.7" y1="48.6" x2="271.7" y2="50" stroke="#999" stroke-width="0.7"/>
<line x1="280.5" y1="48.6" x2="280.5" y2="50" stroke="#999" stroke-width="0.7"/>
<line x1="289.3" y1="48.6" x2="289.3" y2="50" stroke="#999" stroke-width="0.7"/>
<line x1="298.1" y1="48.6" x2="298.1" y2="50" stroke="#999" stroke-width="0.7"/>
<line x1="306.9" y1="48.6" x2="306.9" y2="50" stroke="#999" stroke-width="0.7"/>
<line x1="315.70000000000005" y1="48.6" x2="315.70000000000005" y2="50" stroke="#999" stroke-width="0.7"/>
<line x1="211" y1="12.75" x2="213.6" y2="12.75" stroke="#888" stroke-width="0.8"/>
<text x="208.8" y="15.25" font-size="7" text-anchor="end" fill="#231f20" font-weight="normal">2</text>
<line x1="211" y1="32.3" x2="213.6" y2="32.3" stroke="#888" stroke-width="0.8"/>
<text x="208.8" y="34.8" font-size="7" text-anchor="end" fill="#231f20" font-weight="normal">1</text>
<text x="187.7" y="35.9" font-size="7" text-anchor="start" fill="#231f20" font-weight="normal" transform="rotate(-90 187.7 35.9)">Mean density</text>
<text x="196.5" y="32.0" font-size="7" text-anchor="start" fill="#231f20" font-weight="normal" transform="rotate(-90 196.5 32.0)">(log<tspan font-size="4.5" dy="1.5">2</tspan><tspan dy="-1.5"> CPM)</tspan></text>
<text x="266.8" y="68.4" font-size="7" text-anchor="middle" fill="#231f20" font-weight="normal">Gene expression</text>
<line x1="218.5" y1="92.9" x2="218.5" y2="97.3" stroke="#6a6a6a" stroke-width="0.9"/>
<line x1="218.5" y1="101.4" x2="218.5" y2="105.4" stroke="#6a6a6a" stroke-width="0.9"/>
<rect x="215.50" y="97.5" width="6.0" height="4.00" fill="#6a2a8a" stroke="#2a2a3a" stroke-width="0.75"/>
<line x1="215.5" y1="99.5" x2="221.5" y2="99.5" stroke="#1a1a2a" stroke-width="0.8"/>
<line x1="227.5" y1="96.2" x2="227.5" y2="100.7" stroke="#6a6a6a" stroke-width="0.9"/>
<line x1="227.5" y1="104.5" x2="227.5" y2="108.4" stroke="#6a6a6a" stroke-width="0.9"/>
<rect x="224.50" y="100.5" width="6.0" height="4.00" fill="#5a3a8a" stroke="#2a2a3a" stroke-width="0.75"/>
<line x1="224.5" y1="102.5" x2="230.5" y2="102.5" stroke="#1a1a2a" stroke-width="0.8"/>
<line x1="236.5" y1="92.8" x2="236.5" y2="97.2" stroke="#6a6a6a" stroke-width="0.9"/>
<line x1="236.5" y1="101.1" x2="236.5" y2="105.4" stroke="#6a6a6a" stroke-width="0.9"/>
<rect x="233.50" y="97.5" width="6.0" height="4.00" fill="#4a4a98" stroke="#2a2a3a" stroke-width="0.75"/>
<line x1="233.5" y1="99.5" x2="239.5" y2="99.5" stroke="#1a1a2a" stroke-width="0.8"/>
<line x1="245.5" y1="99.6" x2="245.5" y2="103.3" stroke="#6a6a6a" stroke-width="0.9"/>
<line x1="245.5" y1="106.7" x2="245.5" y2="110.6" stroke="#6a6a6a" stroke-width="0.9"/>
<rect x="242.50" y="103.5" width="6.0" height="3.00" fill="#2a6a9a" stroke="#2a2a3a" stroke-width="0.75"/>
<line x1="242.5" y1="105.5" x2="248.5" y2="105.5" stroke="#1a1a2a" stroke-width="0.8"/>
<line x1="254.5" y1="100.2" x2="254.5" y2="104" stroke="#b4b4b4" stroke-width="0.9"/>
<line x1="254.5" y1="107.2" x2="254.5" y2="110.7" stroke="#b4b4b4" stroke-width="0.9"/>
<rect x="251.50" y="104.5" width="6.0" height="3.00" fill="#1a8aa0" stroke="#2a2a3a" stroke-width="0.75"/>
<line x1="251.5" y1="105.5" x2="257.5" y2="105.5" stroke="#1a1a2a" stroke-width="0.8"/>
<line x1="262.5" y1="96.2" x2="262.5" y2="99.7" stroke="#6a6a6a" stroke-width="0.9"/>
<line x1="262.5" y1="102.8" x2="262.5" y2="106.2" stroke="#6a6a6a" stroke-width="0.9"/>
<rect x="259.50" y="99.5" width="6.0" height="3.00" fill="#10a0a8" stroke="#2a2a3a" stroke-width="0.75"/>
<line x1="259.5" y1="101.5" x2="265.5" y2="101.5" stroke="#1a1a2a" stroke-width="0.8"/>
<line x1="271.5" y1="74.7" x2="271.5" y2="78.6" stroke="#6a6a6a" stroke-width="0.9"/>
<line x1="271.5" y1="83.3" x2="271.5" y2="89" stroke="#6a6a6a" stroke-width="0.9"/>
<rect x="268.50" y="78.5" width="6.0" height="5.00" fill="#12a6a4" stroke="#2a2a3a" stroke-width="0.75"/>
<line x1="268.5" y1="81.5" x2="274.5" y2="81.5" stroke="#1a1a2a" stroke-width="0.8"/>
<line x1="280.5" y1="130.7" x2="280.5" y2="132.1" stroke="#6a6a6a" stroke-width="0.9"/>
<line x1="280.5" y1="132.9" x2="280.5" y2="134.6" stroke="#6a6a6a" stroke-width="0.9"/>
<rect x="277.50" y="132.5" width="6.0" height="2.00" fill="#1e5a52" stroke="#2a2a3a" stroke-width="0.75"/>
<line x1="289.5" y1="91.2" x2="289.5" y2="95.9" stroke="#6a6a6a" stroke-width="0.9"/>
<line x1="289.5" y1="99.7" x2="289.5" y2="104" stroke="#6a6a6a" stroke-width="0.9"/>
<rect x="286.50" y="95.5" width="6.0" height="4.00" fill="#5cd49a" stroke="#2a2a3a" stroke-width="0.75"/>
<line x1="286.5" y1="97.5" x2="292.5" y2="97.5" stroke="#1a1a2a" stroke-width="0.8"/>
<line x1="298.5" y1="127.5" x2="298.5" y2="129.8" stroke="#b4b4b4" stroke-width="0.9"/>
<line x1="298.5" y1="132.5" x2="298.5" y2="134.5" stroke="#b4b4b4" stroke-width="0.9"/>
<rect x="295.50" y="129.5" width="6.0" height="3.00" fill="#6e9034" stroke="#2a2a3a" stroke-width="0.75"/>
<line x1="295.5" y1="131.5" x2="301.5" y2="131.5" stroke="#1a1a2a" stroke-width="0.8"/>
<line x1="306.5" y1="95" x2="306.5" y2="99" stroke="#6a6a6a" stroke-width="0.9"/>
<line x1="306.5" y1="102.8" x2="306.5" y2="106.4" stroke="#6a6a6a" stroke-width="0.9"/>
<rect x="303.50" y="99.5" width="6.0" height="3.00" fill="#e6de2a" stroke="#2a2a3a" stroke-width="0.75"/>
<line x1="303.5" y1="101.5" x2="309.5" y2="101.5" stroke="#1a1a2a" stroke-width="0.8"/>
<line x1="315.5" y1="125.6" x2="315.5" y2="127.8" stroke="#6a6a6a" stroke-width="0.9"/>
<line x1="315.5" y1="130.3" x2="315.5" y2="132.5" stroke="#6a6a6a" stroke-width="0.9"/>
<rect x="312.50" y="127.5" width="6.0" height="3.00" fill="#e2b83a" stroke="#2a2a3a" stroke-width="0.75"/>
<line x1="312.5" y1="129.5" x2="318.5" y2="129.5" stroke="#1a1a2a" stroke-width="0.8"/>
<line x1="213.6" y1="72" x2="320.6" y2="72" stroke="#b0b0b0" stroke-width="1.0"/>
<line x1="320.6" y1="72" x2="320.6" y2="138.5" stroke="#b0b0b0" stroke-width="1.0"/>
<line x1="213.6" y1="72" x2="213.6" y2="138.5" stroke="#707070" stroke-width="1.3"/>
<line x1="213.6" y1="138.5" x2="320.6" y2="138.5" stroke="#b0b0b0" stroke-width="0.9"/>
<line x1="211" y1="72.3" x2="213.6" y2="72.3" stroke="#888" stroke-width="0.8"/>
<text x="208.8" y="74.8" font-size="7" text-anchor="end" fill="#231f20" font-weight="normal">4</text>
<line x1="211" y1="88.9" x2="213.6" y2="88.9" stroke="#888" stroke-width="0.8"/>
<text x="208.8" y="91.4" font-size="7" text-anchor="end" fill="#231f20" font-weight="normal">3</text>
<line x1="211" y1="105.3" x2="213.6" y2="105.3" stroke="#888" stroke-width="0.8"/>
<text x="208.8" y="107.8" font-size="7" text-anchor="end" fill="#231f20" font-weight="normal">2</text>
<line x1="211" y1="122.1" x2="213.6" y2="122.1" stroke="#888" stroke-width="0.8"/>
<text x="208.8" y="124.6" font-size="7" text-anchor="end" fill="#231f20" font-weight="normal">1</text>
<line x1="218.9" y1="138.5" x2="218.9" y2="140" stroke="#999" stroke-width="0.7"/>
<text x="221.3" y="143" font-size="7" text-anchor="end" fill="#231f20" font-weight="normal" transform="rotate(-90 221.3 143)">H3K9ac</text>
<line x1="227.70000000000002" y1="138.5" x2="227.70000000000002" y2="140" stroke="#999" stroke-width="0.7"/>
<text x="230.10000000000002" y="143" font-size="7" text-anchor="end" fill="#231f20" font-weight="normal" transform="rotate(-90 230.10000000000002 143)">H3K4me3</text>
<line x1="236.5" y1="138.5" x2="236.5" y2="140" stroke="#999" stroke-width="0.7"/>
<text x="238.9" y="143" font-size="7" text-anchor="end" fill="#231f20" font-weight="normal" transform="rotate(-90 238.9 143)">H3K27ac</text>
<line x1="245.3" y1="138.5" x2="245.3" y2="140" stroke="#999" stroke-width="0.7"/>
<text x="247.70000000000002" y="143" font-size="7" text-anchor="end" fill="#231f20" font-weight="normal" transform="rotate(-90 247.70000000000002 143)">H3K4me2</text>
<line x1="254.10000000000002" y1="138.5" x2="254.10000000000002" y2="140" stroke="#999" stroke-width="0.7"/>
<text x="256.5" y="143" font-size="7" text-anchor="end" fill="#231f20" font-weight="normal" transform="rotate(-90 256.5 143)">H3K4me1</text>
<line x1="262.9" y1="138.5" x2="262.9" y2="140" stroke="#999" stroke-width="0.7"/>
<text x="265.29999999999995" y="143" font-size="7" text-anchor="end" fill="#231f20" font-weight="normal" transform="rotate(-90 265.29999999999995 143)">H4K20me1</text>
<line x1="271.7" y1="138.5" x2="271.7" y2="140" stroke="#999" stroke-width="0.7"/>
<text x="274.09999999999997" y="143" font-size="7" text-anchor="end" fill="#231f20" font-weight="normal" transform="rotate(-90 274.09999999999997 143)">H3K36me3</text>
<line x1="280.5" y1="138.5" x2="280.5" y2="140" stroke="#999" stroke-width="0.7"/>
<text x="282.9" y="143" font-size="7" text-anchor="end" fill="#231f20" font-weight="normal" transform="rotate(-90 282.9 143)">H3K27me3</text>
<line x1="289.3" y1="138.5" x2="289.3" y2="140" stroke="#999" stroke-width="0.7"/>
<text x="291.7" y="143" font-size="7" text-anchor="end" fill="#231f20" font-weight="normal" transform="rotate(-90 291.7 143)">H3K4me3/H3K27ac</text>
<line x1="298.1" y1="138.5" x2="298.1" y2="140" stroke="#999" stroke-width="0.7"/>
<text x="300.5" y="143" font-size="7" text-anchor="end" fill="#231f20" font-weight="normal" transform="rotate(-90 300.5 143)">H3K4me3/H3K27me3</text>
<line x1="306.9" y1="138.5" x2="306.9" y2="140" stroke="#999" stroke-width="0.7"/>
<text x="309.29999999999995" y="143" font-size="7" text-anchor="end" fill="#231f20" font-weight="normal" transform="rotate(-90 309.29999999999995 143)">H3K4me1/H3K27ac</text>
<line x1="315.70000000000005" y1="138.5" x2="315.70000000000005" y2="140" stroke="#999" stroke-width="0.7"/>
<text x="318.1" y="143" font-size="7" text-anchor="end" fill="#231f20" font-weight="normal" transform="rotate(-90 318.1 143)">H3K4me1/H3K27me3</text>
<text x="188.1" y="105.3" font-size="7" text-anchor="middle" fill="#231f20" font-weight="normal" transform="rotate(-90 188.1 105.3)">Mean expression</text>
<text x="196.4" y="105.3" font-size="7" text-anchor="middle" fill="#231f20" font-weight="normal" transform="rotate(-90 196.4 105.3)">(log<tspan font-size="4.5" dy="1.5">2</tspan><tspan dy="-1.5"> TPM)</tspan></text>
<g clip-path="url(#clipP1)">
<line x1="342.5" y1="-30" x2="342.5" y2="-20" stroke="#b4b4b4" stroke-width="0.9"/>
<line x1="342.5" y1="-6" x2="342.5" y2="7.8" stroke="#b4b4b4" stroke-width="0.9"/>
<rect x="339.50" y="-19.5" width="6.0" height="14.00" fill="#6a1f85" stroke="#2a2a3a" stroke-width="0.75"/>
<line x1="339.5" y1="-11.5" x2="345.5" y2="-11.5" stroke="#1a1a2a" stroke-width="0.8"/>
<line x1="350.5" y1="-20" x2="350.5" y2="-10" stroke="#6a6a6a" stroke-width="0.9"/>
<line x1="350.5" y1="2.7" x2="350.5" y2="10.8" stroke="#6a6a6a" stroke-width="0.9"/>
<rect x="347.50" y="-9.5" width="6.0" height="12.00" fill="#7034a0" stroke="#2a2a3a" stroke-width="0.75"/>
<line x1="347.5" y1="-4.5" x2="353.5" y2="-4.5" stroke="#1a1a2a" stroke-width="0.8"/>
<line x1="357.5" y1="-20" x2="357.5" y2="-8" stroke="#b4b4b4" stroke-width="0.9"/>
<line x1="357.5" y1="5.9" x2="357.5" y2="15.6" stroke="#b4b4b4" stroke-width="0.9"/>
<rect x="354.50" y="-7.5" width="6.0" height="13.00" fill="#7048a0" stroke="#2a2a3a" stroke-width="0.75"/>
<line x1="354.5" y1="1.5" x2="360.5" y2="1.5" stroke="#1a1a2a" stroke-width="0.8"/>
<line x1="365.5" y1="-20" x2="365.5" y2="-8" stroke="#6a6a6a" stroke-width="0.9"/>
<line x1="365.5" y1="6.6" x2="365.5" y2="14.8" stroke="#6a6a6a" stroke-width="0.9"/>
<rect x="362.50" y="-7.5" width="6.0" height="14.00" fill="#6050a8" stroke="#2a2a3a" stroke-width="0.75"/>
<line x1="362.5" y1="2.5" x2="368.5" y2="2.5" stroke="#1a1a2a" stroke-width="0.8"/>
<line x1="373.5" y1="-10" x2="373.5" y2="0.5" stroke="#6a6a6a" stroke-width="0.9"/>
<line x1="373.5" y1="5.9" x2="373.5" y2="11.7" stroke="#6a6a6a" stroke-width="0.9"/>
<rect x="370.50" y="0.5" width="6.0" height="5.00" fill="#5a62aa" stroke="#2a2a3a" stroke-width="0.75"/>
<line x1="370.5" y1="2.5" x2="376.5" y2="2.5" stroke="#1a1a2a" stroke-width="0.8"/>
<line x1="380.5" y1="-10" x2="380.5" y2="1.25" stroke="#b4b4b4" stroke-width="0.9"/>
<line x1="380.5" y1="8.1" x2="380.5" y2="18" stroke="#b4b4b4" stroke-width="0.9"/>
<rect x="377.50" y="1.5" width="6.0" height="7.00" fill="#3d6fb0" stroke="#2a2a3a" stroke-width="0.75"/>
<line x1="377.5" y1="3.5" x2="383.5" y2="3.5" stroke="#1a1a2a" stroke-width="0.8"/>
<line x1="388.5" y1="-10" x2="388.5" y2="0.8" stroke="#6a6a6a" stroke-width="0.9"/>
<line x1="388.5" y1="7.5" x2="388.5" y2="15.6" stroke="#6a6a6a" stroke-width="0.9"/>
<rect x="385.50" y="0.5" width="6.0" height="7.00" fill="#3080b8" stroke="#2a2a3a" stroke-width="0.75"/>
<line x1="385.5" y1="2.5" x2="391.5" y2="2.5" stroke="#1a1a2a" stroke-width="0.8"/>
<line x1="396.5" y1="-10" x2="396.5" y2="1.25" stroke="#6a6a6a" stroke-width="0.9"/>
<line x1="396.5" y1="8.1" x2="396.5" y2="14.4" stroke="#6a6a6a" stroke-width="0.9"/>
<rect x="393.50" y="1.5" width="6.0" height="7.00" fill="#2a88b8" stroke="#2a2a3a" stroke-width="0.75"/>
<line x1="393.5" y1="4.5" x2="399.5" y2="4.5" stroke="#1a1a2a" stroke-width="0.8"/>
<line x1="403.5" y1="7.8" x2="403.5" y2="13.75" stroke="#6a6a6a" stroke-width="0.9"/>
<line x1="403.5" y1="19.5" x2="403.5" y2="26.6" stroke="#6a6a6a" stroke-width="0.9"/>
<rect x="400.50" y="13.5" width="6.0" height="6.00" fill="#1888a8" stroke="#2a2a3a" stroke-width="0.75"/>
<line x1="400.5" y1="16.5" x2="406.5" y2="16.5" stroke="#1a1a2a" stroke-width="0.8"/>
<line x1="411.5" y1="9.4" x2="411.5" y2="15.3" stroke="#6a6a6a" stroke-width="0.9"/>
<line x1="411.5" y1="20.6" x2="411.5" y2="27.8" stroke="#6a6a6a" stroke-width="0.9"/>
<rect x="408.50" y="15.5" width="6.0" height="5.00" fill="#10a0b8" stroke="#2a2a3a" stroke-width="0.75"/>
<line x1="408.5" y1="18.5" x2="414.5" y2="18.5" stroke="#1a1a2a" stroke-width="0.8"/>
<line x1="419.5" y1="11.25" x2="419.5" y2="16.9" stroke="#6a6a6a" stroke-width="0.9"/>
<line x1="419.5" y1="21.9" x2="419.5" y2="28.9" stroke="#6a6a6a" stroke-width="0.9"/>
<rect x="416.50" y="16.5" width="6.0" height="5.00" fill="#10a0b0" stroke="#2a2a3a" stroke-width="0.75"/>
<line x1="416.5" y1="19.5" x2="422.5" y2="19.5" stroke="#1a1a2a" stroke-width="0.8"/>
<line x1="426.5" y1="11.7" x2="426.5" y2="17.5" stroke="#6a6a6a" stroke-width="0.9"/>
<line x1="426.5" y1="22.7" x2="426.5" y2="27.8" stroke="#6a6a6a" stroke-width="0.9"/>
<rect x="423.50" y="17.5" width="6.0" height="5.00" fill="#10a8a8" stroke="#2a2a3a" stroke-width="0.75"/>
<line x1="423.5" y1="19.5" x2="429.5" y2="19.5" stroke="#1a1a2a" stroke-width="0.8"/>
<line x1="434.5" y1="11.7" x2="434.5" y2="18" stroke="#6a6a6a" stroke-width="0.9"/>
<line x1="434.5" y1="23.4" x2="434.5" y2="28.9" stroke="#6a6a6a" stroke-width="0.9"/>
<rect x="431.50" y="18.5" width="6.0" height="5.00" fill="#20b0a8" stroke="#2a2a3a" stroke-width="0.75"/>
<line x1="431.5" y1="20.5" x2="437.5" y2="20.5" stroke="#1a1a2a" stroke-width="0.8"/>
<line x1="442.5" y1="15.6" x2="442.5" y2="21.6" stroke="#b4b4b4" stroke-width="0.9"/>
<line x1="442.5" y1="26.6" x2="442.5" y2="32.8" stroke="#b4b4b4" stroke-width="0.9"/>
<rect x="439.50" y="21.5" width="6.0" height="5.00" fill="#20b090" stroke="#2a2a3a" stroke-width="0.75"/>
<line x1="439.5" y1="23.5" x2="445.5" y2="23.5" stroke="#1a1a2a" stroke-width="0.8"/>
<line x1="449.5" y1="17.2" x2="449.5" y2="21.9" stroke="#6a6a6a" stroke-width="0.9"/>
<line x1="449.5" y1="28.4" x2="449.5" y2="35.6" stroke="#6a6a6a" stroke-width="0.9"/>
<rect x="446.50" y="21.5" width="6.0" height="7.00" fill="#50c8a0" stroke="#2a2a3a" stroke-width="0.75"/>
<line x1="446.5" y1="24.5" x2="452.5" y2="24.5" stroke="#1a1a2a" stroke-width="0.8"/>
<line x1="457.5" y1="21.9" x2="457.5" y2="26.25" stroke="#6a6a6a" stroke-width="0.9"/>
<line x1="457.5" y1="31.6" x2="457.5" y2="37.5" stroke="#6a6a6a" stroke-width="0.9"/>
<rect x="454.50" y="26.5" width="6.0" height="5.00" fill="#5ac070" stroke="#2a2a3a" stroke-width="0.75"/>
<line x1="454.5" y1="28.5" x2="460.5" y2="28.5" stroke="#1a1a2a" stroke-width="0.8"/>
<line x1="465.5" y1="23.2" x2="465.5" y2="27.8" stroke="#b4b4b4" stroke-width="0.9"/>
<line x1="465.5" y1="31.6" x2="465.5" y2="35.4" stroke="#b4b4b4" stroke-width="0.9"/>
<rect x="462.50" y="27.5" width="6.0" height="4.00" fill="#7ab040" stroke="#2a2a3a" stroke-width="0.75"/>
<line x1="462.5" y1="29.5" x2="468.5" y2="29.5" stroke="#1a1a2a" stroke-width="0.8"/>
<line x1="472.5" y1="24.1" x2="472.5" y2="28.3" stroke="#6a6a6a" stroke-width="0.9"/>
<line x1="472.5" y1="33" x2="472.5" y2="39" stroke="#6a6a6a" stroke-width="0.9"/>
<rect x="469.50" y="28.5" width="6.0" height="5.00" fill="#b8d040" stroke="#2a2a3a" stroke-width="0.75"/>
<line x1="469.5" y1="30.5" x2="475.5" y2="30.5" stroke="#1a1a2a" stroke-width="0.8"/>
<line x1="480.5" y1="30" x2="480.5" y2="34.3" stroke="#6a6a6a" stroke-width="0.9"/>
<line x1="480.5" y1="37.5" x2="480.5" y2="42.2" stroke="#6a6a6a" stroke-width="0.9"/>
<rect x="477.50" y="34.5" width="6.0" height="3.00" fill="#c8c030" stroke="#2a2a3a" stroke-width="0.75"/>
<line x1="477.5" y1="35.5" x2="483.5" y2="35.5" stroke="#1a1a2a" stroke-width="0.8"/>
<line x1="488.5" y1="31.9" x2="488.5" y2="36.6" stroke="#6a6a6a" stroke-width="0.9"/>
<line x1="488.5" y1="39.8" x2="488.5" y2="44" stroke="#6a6a6a" stroke-width="0.9"/>
<rect x="485.50" y="36.5" width="6.0" height="3.00" fill="#d4c02c" stroke="#2a2a3a" stroke-width="0.75"/>
<line x1="485.5" y1="38.5" x2="491.5" y2="38.5" stroke="#1a1a2a" stroke-width="0.8"/>
<line x1="496.5" y1="32.3" x2="496.5" y2="36.6" stroke="#6a6a6a" stroke-width="0.9"/>
<line x1="496.5" y1="40.9" x2="496.5" y2="46" stroke="#6a6a6a" stroke-width="0.9"/>
<rect x="493.50" y="36.5" width="6.0" height="4.00" fill="#ecc840" stroke="#2a2a3a" stroke-width="0.75"/>
<line x1="493.5" y1="38.5" x2="499.5" y2="38.5" stroke="#1a1a2a" stroke-width="0.8"/>
</g>
<line x1="338.7" y1="0" x2="338.7" y2="49" stroke="#b0b0b0" stroke-width="1.0"/>
<line x1="338.7" y1="49" x2="499.2" y2="49" stroke="#b0b0b0" stroke-width="0.9"/>
<line x1="499.2" y1="0" x2="499.2" y2="49" stroke="#b0b0b0" stroke-width="1.0"/>
<line x1="342.6" y1="49" x2="342.6" y2="50.3" stroke="#999" stroke-width="0.7"/>
<line x1="350.27000000000004" y1="49" x2="350.27000000000004" y2="50.3" stroke="#999" stroke-width="0.7"/>
<line x1="357.94" y1="49" x2="357.94" y2="50.3" stroke="#999" stroke-width="0.7"/>
<line x1="365.61" y1="49" x2="365.61" y2="50.3" stroke="#999" stroke-width="0.7"/>
<line x1="373.28000000000003" y1="49" x2="373.28000000000003" y2="50.3" stroke="#999" stroke-width="0.7"/>
<line x1="380.95000000000005" y1="49" x2="380.95000000000005" y2="50.3" stroke="#999" stroke-width="0.7"/>
<line x1="388.62" y1="49" x2="388.62" y2="50.3" stroke="#999" stroke-width="0.7"/>
<line x1="396.29" y1="49" x2="396.29" y2="50.3" stroke="#999" stroke-width="0.7"/>
<line x1="403.96000000000004" y1="49" x2="403.96000000000004" y2="50.3" stroke="#999" stroke-width="0.7"/>
<line x1="411.63" y1="49" x2="411.63" y2="50.3" stroke="#999" stroke-width="0.7"/>
<line x1="419.3" y1="49" x2="419.3" y2="50.3" stroke="#999" stroke-width="0.7"/>
<line x1="426.97" y1="49" x2="426.97" y2="50.3" stroke="#999" stroke-width="0.7"/>
<line x1="434.64" y1="49" x2="434.64" y2="50.3" stroke="#999" stroke-width="0.7"/>
<line x1="442.31" y1="49" x2="442.31" y2="50.3" stroke="#999" stroke-width="0.7"/>
<line x1="449.98" y1="49" x2="449.98" y2="50.3" stroke="#999" stroke-width="0.7"/>
<line x1="457.65000000000003" y1="49" x2="457.65000000000003" y2="50.3" stroke="#999" stroke-width="0.7"/>
<line x1="465.32000000000005" y1="49" x2="465.32000000000005" y2="50.3" stroke="#999" stroke-width="0.7"/>
<line x1="472.99" y1="49" x2="472.99" y2="50.3" stroke="#999" stroke-width="0.7"/>
<line x1="480.66" y1="49" x2="480.66" y2="50.3" stroke="#999" stroke-width="0.7"/>
<line x1="488.33000000000004" y1="49" x2="488.33000000000004" y2="50.3" stroke="#999" stroke-width="0.7"/>
<line x1="496.0" y1="49" x2="496.0" y2="50.3" stroke="#999" stroke-width="0.7"/>
<line x1="336.3" y1="10.5" x2="338.7" y2="10.5" stroke="#888" stroke-width="0.8"/>
<text x="334.2" y="13.0" font-size="7" text-anchor="end" fill="#231f20" font-weight="normal">3</text>
<line x1="336.3" y1="24.5" x2="338.7" y2="24.5" stroke="#888" stroke-width="0.8"/>
<text x="334.2" y="27.0" font-size="7" text-anchor="end" fill="#231f20" font-weight="normal">2</text>
<line x1="336.3" y1="39.2" x2="338.7" y2="39.2" stroke="#888" stroke-width="0.8"/>
<text x="334.2" y="41.7" font-size="7" text-anchor="end" fill="#231f20" font-weight="normal">1</text>
<text x="419" y="68.4" font-size="7" text-anchor="middle" fill="#231f20" font-weight="normal">Gene expression</text>
<line x1="342.5" y1="91" x2="342.5" y2="98" stroke="#b4b4b4" stroke-width="0.9"/>
<line x1="342.5" y1="102.2" x2="342.5" y2="106.9" stroke="#b4b4b4" stroke-width="0.9"/>
<rect x="339.50" y="98.5" width="6.0" height="4.00" fill="#6a2a8a" stroke="#2a2a3a" stroke-width="0.75"/>
<line x1="339.5" y1="100.5" x2="345.5" y2="100.5" stroke="#1a1a2a" stroke-width="0.8"/>
<line x1="350.5" y1="82.8" x2="350.5" y2="87" stroke="#6a6a6a" stroke-width="0.9"/>
<line x1="350.5" y1="90.9" x2="350.5" y2="95.6" stroke="#6a6a6a" stroke-width="0.9"/>
<rect x="347.50" y="87.5" width="6.0" height="3.00" fill="#7040a0" stroke="#2a2a3a" stroke-width="0.75"/>
<line x1="347.5" y1="88.5" x2="353.5" y2="88.5" stroke="#1a1a2a" stroke-width="0.8"/>
<line x1="357.5" y1="79.4" x2="357.5" y2="85" stroke="#6a6a6a" stroke-width="0.9"/>
<line x1="357.5" y1="88.6" x2="357.5" y2="93.4" stroke="#6a6a6a" stroke-width="0.9"/>
<rect x="354.50" y="85.5" width="6.0" height="3.00" fill="#6a50b0" stroke="#2a2a3a" stroke-width="0.75"/>
<line x1="354.5" y1="86.5" x2="360.5" y2="86.5" stroke="#1a1a2a" stroke-width="0.8"/>
<line x1="365.5" y1="77.2" x2="365.5" y2="82.3" stroke="#6a6a6a" stroke-width="0.9"/>
<line x1="365.5" y1="86.5" x2="365.5" y2="92" stroke="#6a6a6a" stroke-width="0.9"/>
<rect x="362.50" y="82.5" width="6.0" height="4.00" fill="#5a60b0" stroke="#2a2a3a" stroke-width="0.75"/>
<line x1="362.5" y1="84.5" x2="368.5" y2="84.5" stroke="#1a1a2a" stroke-width="0.8"/>
<line x1="373.5" y1="76.9" x2="373.5" y2="82.3" stroke="#6a6a6a" stroke-width="0.9"/>
<line x1="373.5" y1="86.5" x2="373.5" y2="92.5" stroke="#6a6a6a" stroke-width="0.9"/>
<rect x="370.50" y="82.5" width="6.0" height="4.00" fill="#4a70b8" stroke="#2a2a3a" stroke-width="0.75"/>
<line x1="370.5" y1="84.5" x2="376.5" y2="84.5" stroke="#1a1a2a" stroke-width="0.8"/>
<line x1="380.5" y1="75.2" x2="380.5" y2="79.8" stroke="#6a6a6a" stroke-width="0.9"/>
<line x1="380.5" y1="85.3" x2="380.5" y2="90.8" stroke="#6a6a6a" stroke-width="0.9"/>
<rect x="377.50" y="79.5" width="6.0" height="6.00" fill="#3a72b0" stroke="#2a2a3a" stroke-width="0.75"/>
<line x1="377.5" y1="82.5" x2="383.5" y2="82.5" stroke="#1a1a2a" stroke-width="0.8"/>
<line x1="388.5" y1="85" x2="388.5" y2="89.2" stroke="#6a6a6a" stroke-width="0.9"/>
<line x1="388.5" y1="93.9" x2="388.5" y2="99.7" stroke="#6a6a6a" stroke-width="0.9"/>
<rect x="385.50" y="89.5" width="6.0" height="4.00" fill="#2a7aa8" stroke="#2a2a3a" stroke-width="0.75"/>
<line x1="385.5" y1="91.5" x2="391.5" y2="91.5" stroke="#1a1a2a" stroke-width="0.8"/>
<line x1="396.5" y1="93.1" x2="396.5" y2="96.25" stroke="#6a6a6a" stroke-width="0.9"/>
<line x1="396.5" y1="99.7" x2="396.5" y2="104" stroke="#6a6a6a" stroke-width="0.9"/>
<rect x="393.50" y="96.5" width="6.0" height="3.00" fill="#2a82a4" stroke="#2a2a3a" stroke-width="0.75"/>
<line x1="393.5" y1="98.5" x2="399.5" y2="98.5" stroke="#1a1a2a" stroke-width="0.8"/>
<line x1="403.5" y1="91.9" x2="403.5" y2="96.6" stroke="#6a6a6a" stroke-width="0.9"/>
<line x1="403.5" y1="100.6" x2="403.5" y2="105.3" stroke="#6a6a6a" stroke-width="0.9"/>
<rect x="400.50" y="96.5" width="6.0" height="4.00" fill="#1f7e9c" stroke="#2a2a3a" stroke-width="0.75"/>
<line x1="400.5" y1="98.5" x2="406.5" y2="98.5" stroke="#1a1a2a" stroke-width="0.8"/>
<line x1="411.5" y1="93.1" x2="411.5" y2="97.8" stroke="#6a6a6a" stroke-width="0.9"/>
<line x1="411.5" y1="101.7" x2="411.5" y2="105.9" stroke="#6a6a6a" stroke-width="0.9"/>
<rect x="408.50" y="97.5" width="6.0" height="4.00" fill="#1a8ca8" stroke="#2a2a3a" stroke-width="0.75"/>
<line x1="408.5" y1="99.5" x2="414.5" y2="99.5" stroke="#1a1a2a" stroke-width="0.8"/>
<line x1="419.5" y1="101.7" x2="419.5" y2="106" stroke="#6a6a6a" stroke-width="0.9"/>
<line x1="419.5" y1="109.5" x2="419.5" y2="114.2" stroke="#6a6a6a" stroke-width="0.9"/>
<rect x="416.50" y="106.5" width="6.0" height="3.00" fill="#10989a" stroke="#2a2a3a" stroke-width="0.75"/>
<line x1="416.5" y1="107.5" x2="422.5" y2="107.5" stroke="#1a1a2a" stroke-width="0.8"/>
<line x1="426.5" y1="93.5" x2="426.5" y2="98.5" stroke="#6a6a6a" stroke-width="0.9"/>
<line x1="426.5" y1="102.3" x2="426.5" y2="106.7" stroke="#6a6a6a" stroke-width="0.9"/>
<rect x="423.50" y="98.5" width="6.0" height="4.00" fill="#18aaa8" stroke="#2a2a3a" stroke-width="0.75"/>
<line x1="423.5" y1="100.5" x2="429.5" y2="100.5" stroke="#1a1a2a" stroke-width="0.8"/>
<line x1="434.5" y1="94.8" x2="434.5" y2="99.5" stroke="#6a6a6a" stroke-width="0.9"/>
<line x1="434.5" y1="103.4" x2="434.5" y2="107.8" stroke="#6a6a6a" stroke-width="0.9"/>
<rect x="431.50" y="99.5" width="6.0" height="4.00" fill="#2ab5a8" stroke="#2a2a3a" stroke-width="0.75"/>
<line x1="431.5" y1="101.5" x2="437.5" y2="101.5" stroke="#1a1a2a" stroke-width="0.8"/>
<line x1="442.5" y1="96.9" x2="442.5" y2="101.1" stroke="#b4b4b4" stroke-width="0.9"/>
<line x1="442.5" y1="104.7" x2="442.5" y2="108.9" stroke="#b4b4b4" stroke-width="0.9"/>
<rect x="439.50" y="101.5" width="6.0" height="3.00" fill="#20a890" stroke="#2a2a3a" stroke-width="0.75"/>
<line x1="439.5" y1="102.5" x2="445.5" y2="102.5" stroke="#1a1a2a" stroke-width="0.8"/>
<line x1="449.5" y1="123.4" x2="449.5" y2="125.9" stroke="#6a6a6a" stroke-width="0.9"/>
<line x1="449.5" y1="127.1" x2="449.5" y2="130" stroke="#6a6a6a" stroke-width="0.9"/>
<rect x="446.50" y="125.5" width="6.0" height="2.00" fill="#1a6a4c" stroke="#2a2a3a" stroke-width="0.75"/>
<line x1="457.5" y1="95.6" x2="457.5" y2="100" stroke="#6a6a6a" stroke-width="0.9"/>
<line x1="457.5" y1="104.7" x2="457.5" y2="108.9" stroke="#6a6a6a" stroke-width="0.9"/>
<rect x="454.50" y="100.5" width="6.0" height="4.00" fill="#5cc880" stroke="#2a2a3a" stroke-width="0.75"/>
<line x1="454.5" y1="102.5" x2="460.5" y2="102.5" stroke="#1a1a2a" stroke-width="0.8"/>
<line x1="465.5" y1="106.7" x2="465.5" y2="110.2" stroke="#6a6a6a" stroke-width="0.9"/>
<line x1="465.5" y1="113.7" x2="465.5" y2="117.3" stroke="#6a6a6a" stroke-width="0.9"/>
<rect x="462.50" y="110.5" width="6.0" height="3.00" fill="#80b850" stroke="#2a2a3a" stroke-width="0.75"/>
<line x1="462.5" y1="112.5" x2="468.5" y2="112.5" stroke="#1a1a2a" stroke-width="0.8"/>
<line x1="472.5" y1="95.8" x2="472.5" y2="100.5" stroke="#6a6a6a" stroke-width="0.9"/>
<line x1="472.5" y1="104.2" x2="472.5" y2="108.7" stroke="#6a6a6a" stroke-width="0.9"/>
<rect x="469.50" y="100.5" width="6.0" height="4.00" fill="#c0d448" stroke="#2a2a3a" stroke-width="0.75"/>
<line x1="469.5" y1="102.5" x2="475.5" y2="102.5" stroke="#1a1a2a" stroke-width="0.8"/>
<line x1="480.5" y1="113.2" x2="480.5" y2="116.1" stroke="#b4b4b4" stroke-width="0.9"/>
<line x1="480.5" y1="119.2" x2="480.5" y2="121.8" stroke="#b4b4b4" stroke-width="0.9"/>
<rect x="477.50" y="116.5" width="6.0" height="3.00" fill="#c4b838" stroke="#2a2a3a" stroke-width="0.75"/>
<line x1="477.5" y1="117.5" x2="483.5" y2="117.5" stroke="#1a1a2a" stroke-width="0.8"/>
<line x1="488.5" y1="121.8" x2="488.5" y2="124" stroke="#6a6a6a" stroke-width="0.9"/>
<line x1="488.5" y1="126.4" x2="488.5" y2="128.7" stroke="#6a6a6a" stroke-width="0.9"/>
<rect x="485.50" y="124.5" width="6.0" height="2.00" fill="#b8a424" stroke="#2a2a3a" stroke-width="0.75"/>
<line x1="496.5" y1="127.8" x2="496.5" y2="130.4" stroke="#6a6a6a" stroke-width="0.9"/>
<line x1="496.5" y1="133" x2="496.5" y2="136" stroke="#6a6a6a" stroke-width="0.9"/>
<rect x="493.50" y="130.5" width="6.0" height="3.00" fill="#d4b434" stroke="#2a2a3a" stroke-width="0.75"/>
<line x1="493.5" y1="131.5" x2="499.5" y2="131.5" stroke="#1a1a2a" stroke-width="0.8"/>
<line x1="338.7" y1="72" x2="499.2" y2="72" stroke="#b0b0b0" stroke-width="1.0"/>
<line x1="499.2" y1="72" x2="499.2" y2="138.5" stroke="#b0b0b0" stroke-width="1.0"/>
<line x1="338.7" y1="72" x2="338.7" y2="138.5" stroke="#707070" stroke-width="1.3"/>
<line x1="338.7" y1="138.5" x2="499.2" y2="138.5" stroke="#b0b0b0" stroke-width="0.9"/>
<line x1="336.3" y1="83.4" x2="338.7" y2="83.4" stroke="#888" stroke-width="0.8"/>
<text x="334.2" y="85.9" font-size="7" text-anchor="end" fill="#231f20" font-weight="normal">3</text>
<line x1="336.3" y1="103.4" x2="338.7" y2="103.4" stroke="#888" stroke-width="0.8"/>
<text x="334.2" y="105.9" font-size="7" text-anchor="end" fill="#231f20" font-weight="normal">2</text>
<line x1="336.3" y1="123.4" x2="338.7" y2="123.4" stroke="#888" stroke-width="0.8"/>
<text x="334.2" y="125.9" font-size="7" text-anchor="end" fill="#231f20" font-weight="normal">1</text>
<line x1="342.6" y1="138.5" x2="342.6" y2="140" stroke="#999" stroke-width="0.7"/>
<text x="345.0" y="143" font-size="7" text-anchor="end" fill="#231f20" font-weight="normal" transform="rotate(-90 345.0 143)">BRF1</text>
<line x1="350.27000000000004" y1="138.5" x2="350.27000000000004" y2="140" stroke="#999" stroke-width="0.7"/>
<text x="352.67" y="143" font-size="7" text-anchor="end" fill="#231f20" font-weight="normal" transform="rotate(-90 352.67 143)">RFX5</text>
<line x1="357.94" y1="138.5" x2="357.94" y2="140" stroke="#999" stroke-width="0.7"/>
<text x="360.34" y="143" font-size="7" text-anchor="end" fill="#231f20" font-weight="normal" transform="rotate(-90 360.34 143)">SMAD1</text>
<line x1="365.61" y1="138.5" x2="365.61" y2="140" stroke="#999" stroke-width="0.7"/>
<text x="368.01" y="143" font-size="7" text-anchor="end" fill="#231f20" font-weight="normal" transform="rotate(-90 368.01 143)">BRD4</text>
<line x1="373.28000000000003" y1="138.5" x2="373.28000000000003" y2="140" stroke="#999" stroke-width="0.7"/>
<text x="375.68" y="143" font-size="7" text-anchor="end" fill="#231f20" font-weight="normal" transform="rotate(-90 375.68 143)">SETDB1</text>
<line x1="380.95000000000005" y1="138.5" x2="380.95000000000005" y2="140" stroke="#999" stroke-width="0.7"/>
<text x="383.35" y="143" font-size="7" text-anchor="end" fill="#231f20" font-weight="normal" transform="rotate(-90 383.35 143)">HDAC6</text>
<line x1="388.62" y1="138.5" x2="388.62" y2="140" stroke="#999" stroke-width="0.7"/>
<text x="391.02" y="143" font-size="7" text-anchor="end" fill="#231f20" font-weight="normal" transform="rotate(-90 391.02 143)">CHD1</text>
<line x1="396.29" y1="138.5" x2="396.29" y2="140" stroke="#999" stroke-width="0.7"/>
<text x="398.69" y="143" font-size="7" text-anchor="end" fill="#231f20" font-weight="normal" transform="rotate(-90 398.69 143)">BDP1</text>
<line x1="403.96000000000004" y1="138.5" x2="403.96000000000004" y2="140" stroke="#999" stroke-width="0.7"/>
<text x="406.36" y="143" font-size="7" text-anchor="end" fill="#231f20" font-weight="normal" transform="rotate(-90 406.36 143)">ATF1</text>
<line x1="411.63" y1="138.5" x2="411.63" y2="140" stroke="#999" stroke-width="0.7"/>
<text x="414.03" y="143" font-size="7" text-anchor="end" fill="#231f20" font-weight="normal" transform="rotate(-90 414.03 143)">EP300</text>
<line x1="419.3" y1="138.5" x2="419.3" y2="140" stroke="#999" stroke-width="0.7"/>
<text x="421.7" y="143" font-size="7" text-anchor="end" fill="#231f20" font-weight="normal" transform="rotate(-90 421.7 143)">CBX3</text>
<line x1="426.97" y1="138.5" x2="426.97" y2="140" stroke="#999" stroke-width="0.7"/>
<text x="429.37" y="143" font-size="7" text-anchor="end" fill="#231f20" font-weight="normal" transform="rotate(-90 429.37 143)">NFXL1</text>
<line x1="434.64" y1="138.5" x2="434.64" y2="140" stroke="#999" stroke-width="0.7"/>
<text x="437.03999999999996" y="143" font-size="7" text-anchor="end" fill="#231f20" font-weight="normal" transform="rotate(-90 437.03999999999996 143)">SMARCE1</text>
<line x1="442.31" y1="138.5" x2="442.31" y2="140" stroke="#999" stroke-width="0.7"/>
<text x="444.71" y="143" font-size="7" text-anchor="end" fill="#231f20" font-weight="normal" transform="rotate(-90 444.71 143)">ATF2</text>
<line x1="449.98" y1="138.5" x2="449.98" y2="140" stroke="#999" stroke-width="0.7"/>
<text x="452.38" y="143" font-size="7" text-anchor="end" fill="#231f20" font-weight="normal" transform="rotate(-90 452.38 143)">EZH2</text>
<line x1="457.65000000000003" y1="138.5" x2="457.65000000000003" y2="140" stroke="#999" stroke-width="0.7"/>
<text x="460.05" y="143" font-size="7" text-anchor="end" fill="#231f20" font-weight="normal" transform="rotate(-90 460.05 143)">KDM1A</text>
<line x1="465.32000000000005" y1="138.5" x2="465.32000000000005" y2="140" stroke="#999" stroke-width="0.7"/>
<text x="467.72" y="143" font-size="7" text-anchor="end" fill="#231f20" font-weight="normal" transform="rotate(-90 467.72 143)">CHD4</text>
<line x1="472.99" y1="138.5" x2="472.99" y2="140" stroke="#999" stroke-width="0.7"/>
<text x="475.39" y="143" font-size="7" text-anchor="end" fill="#231f20" font-weight="normal" transform="rotate(-90 475.39 143)">CTCF</text>
<line x1="480.66" y1="138.5" x2="480.66" y2="140" stroke="#999" stroke-width="0.7"/>
<text x="483.06" y="143" font-size="7" text-anchor="end" fill="#231f20" font-weight="normal" transform="rotate(-90 483.06 143)">SUZ12</text>
<line x1="488.33000000000004" y1="138.5" x2="488.33000000000004" y2="140" stroke="#999" stroke-width="0.7"/>
<text x="490.73" y="143" font-size="7" text-anchor="end" fill="#231f20" font-weight="normal" transform="rotate(-90 490.73 143)">CBX2</text>
<line x1="496.0" y1="138.5" x2="496.0" y2="140" stroke="#999" stroke-width="0.7"/>
<text x="498.4" y="143" font-size="7" text-anchor="end" fill="#231f20" font-weight="normal" transform="rotate(-90 498.4 143)">CBX8</text>
<text x="0" y="234" font-size="12" text-anchor="start" fill="#000" font-weight="bold">c</text>
<text x="86.8" y="238.3" font-size="7" text-anchor="start" fill="#231f20" font-weight="normal">Chr 12</text>
<text x="2" y="254.2" font-size="7" text-anchor="start" fill="#231f20" font-weight="normal" style="stroke-width:0.1px">DNase-seq (ENCODE)</text>
<text x="2" y="269.7" font-size="7" text-anchor="start" fill="#231f20" font-weight="normal" style="stroke-width:0.1px">ATAC-seq (50,000 cells)</text>
<text x="2" y="285.1" font-size="7" text-anchor="start" fill="#231f20" font-weight="normal" style="stroke-width:0.1px">CAT-seq (500 cells)</text>
<text x="2" y="300.8" font-size="7" text-anchor="start" fill="#231f20" font-weight="normal" style="stroke-width:0.1px">Aggregate scCAT-seq</text>
<text x="38.5" y="316.3" font-size="7" text-anchor="middle" fill="#231f20" font-weight="normal" style="stroke-width:0.1px">scCAT-seq</text>
<line x1="148.5" y1="231" x2="148.5" y2="235.4" stroke="#333" stroke-width="0.7"/>
<text x="148.5" y="243" font-size="5.4" text-anchor="middle" fill="#231f20" font-weight="normal" style="stroke-width:0.1px">56,500,000bp</text>
<line x1="249.6" y1="231" x2="249.6" y2="235.4" stroke="#333" stroke-width="0.7"/>
<text x="249.6" y="243" font-size="5.4" text-anchor="middle" fill="#231f20" font-weight="normal" style="stroke-width:0.1px">56,540,000bp</text>
<line x1="351.2" y1="231" x2="351.2" y2="235.4" stroke="#333" stroke-width="0.7"/>
<text x="351.2" y="243" font-size="5.4" text-anchor="middle" fill="#231f20" font-weight="normal" style="stroke-width:0.1px">56,580,000bp</text>
<line x1="452.8" y1="231" x2="452.8" y2="235.4" stroke="#333" stroke-width="0.7"/>
<text x="452.8" y="243" font-size="5.4" text-anchor="middle" fill="#231f20" font-weight="normal" style="stroke-width:0.1px">56,620,000bp</text>
<line x1="98.6" y1="246.5" x2="98.6" y2="302.6" stroke="#333" stroke-width="0.8"/>
<line x1="97.1" y1="246.8" x2="98.6" y2="246.8" stroke="#333" stroke-width="0.6"/>
<text x="95.9" y="248.70000000000002" font-size="5.3" text-anchor="end" fill="#231f20" font-weight="normal" style="stroke-width:0.1px">160</text>
<line x1="97.1" y1="256.4" x2="98.6" y2="256.4" stroke="#333" stroke-width="0.6"/>
<text x="95.9" y="258.29999999999995" font-size="5.3" text-anchor="end" fill="#231f20" font-weight="normal" style="stroke-width:0.1px">0</text>
<line x1="97.1" y1="261.2" x2="98.6" y2="261.2" stroke="#333" stroke-width="0.6"/>
<text x="95.9" y="263.09999999999997" font-size="5.3" text-anchor="end" fill="#231f20" font-weight="normal" style="stroke-width:0.1px">41</text>
<line x1="97.1" y1="271.3" x2="98.6" y2="271.3" stroke="#333" stroke-width="0.6"/>
<text x="95.9" y="273.2" font-size="5.3" text-anchor="end" fill="#231f20" font-weight="normal" style="stroke-width:0.1px">0</text>
<line x1="97.1" y1="276.4" x2="98.6" y2="276.4" stroke="#333" stroke-width="0.6"/>
<text x="95.9" y="278.29999999999995" font-size="5.3" text-anchor="end" fill="#231f20" font-weight="normal" style="stroke-width:0.1px">53</text>
<line x1="97.1" y1="287" x2="98.6" y2="287" stroke="#333" stroke-width="0.6"/>
<text x="95.9" y="288.9" font-size="5.3" text-anchor="end" fill="#231f20" font-weight="normal" style="stroke-width:0.1px">0</text>
<line x1="97.1" y1="291.8" x2="98.6" y2="291.8" stroke="#333" stroke-width="0.6"/>
<text x="95.9" y="293.7" font-size="5.3" text-anchor="end" fill="#231f20" font-weight="normal" style="stroke-width:0.1px">109</text>
<line x1="97.1" y1="302.5" x2="98.6" y2="302.5" stroke="#333" stroke-width="0.6"/>
<text x="95.9" y="304.4" font-size="5.3" text-anchor="end" fill="#231f20" font-weight="normal" style="stroke-width:0.1px">0</text>
<path d="M100 256.9h.5h.5h.5h.5h.5h.5h.5h.5h.5h.5h.5h.5h.5h.5h.5h.5h.5h.5h.5h.5h.5h.5h.5h.5h.5h.5h.5h.5h.5h.5h.5h.5h.5h.5h.5h.5h.5h.5h.5h.5h.5h.5h.5h.5h.5h.5h.5h.5h.5h.5h.5h.5h.5h.5V255.9h.5h.5h.5h.5h.5V256.9h.5h.5h.5h.5h.5h.5h.5h.5h.5h.5h.5h.5h.5h.5h.5h.5h.5h.5h.5h.5h.5h.5V256.1h.5V255.9h.5V254.9h.5V253.5h.5V249.2h.5V248.5h.5V249.1h.5V256.4h.5V253.6h.5V254.9h.5V256.0h.5V256.0h.5V256.1h.5V256.9h.5h.5h.5h.5h.5h.5V255.7h.5h.5h.5h.5V256.9h.5h.5h.5h.5h.5h.5h.5h.5h.5h.5h.5h.5h.5h.5h.5h.5h.5h.5h.5h.5h.5h.5h.5h.5h.5h.5h.5h.5h.5h.5h.5h.5h.5h.5h.5h.5h.5h.5h.5h.5V256.4h.5V255.9h.5V254.9h.5V252.8h.5V252.9h.5V256.3h.5V255.1h.5V256.2h.5V256.1h.5V256.1h.5V255.3h.5V254.1h.5V250.2h.5V249.5h.5V256.2h.5V253.2h.5V255.2h.5V256.1h.5V254.7h.5V256.4h.5V252.0h.5V256.1h.5V254.6h.5V255.7h.5V256.4h.5V256.9h.5h.5h.5h.5h.5h.5h.5h.5h.5h.5h.5h.5h.5h.5h.5h.5h.5V256.1h.5h.5h.5V256.9h.5h.5h.5h.5h.5V255.4h.5h.5V255.0h.5V253.2h.5V253.3h.5V256.1h.5V255.3h.5V256.0h.5V256.3h.5V255.9h.5V254.9h.5V252.3h.5V247.9h.5V248.4h.5V248.0h.5V253.0h.5V252.4h.5V252.4h.5V256.3h.5V254.9h.5V255.8h.5V256.4h.5V256.2h.5V256.9h.5h.5h.5h.5h.5h.5h.5h.5h.5h.5h.5h.5h.5h.5h.5h.5h.5h.5h.5h.5h.5h.5h.5h.5h.5h.5h.5h.5h.5h.5h.5h.5h.5h.5h.5V256.2h.5h.5h.5V256.9h.5h.5h.5h.5h.5h.5h.5h.5h.5h.5h.5h.5h.5h.5h.5h.5h.5h.5h.5h.5h.5h.5h.5h.5h.5h.5h.5h.5h.5h.5h.5h.5h.5h.5h.5h.5h.5h.5h.5h.5h.5h.5h.5h.5h.5h.5h.5V256.1h.5h.5h.5V256.9h.5h.5h.5h.5h.5h.5h.5h.5h.5h.5h.5h.5h.5h.5h.5h.5V256.1h.5h.5h.5V256.9h.5h.5V256.1h.5V256.1h.5V253.4h.5V256.1h.5V249.9h.5V256.2h.5V250.7h.5V253.4h.5V255.2h.5V256.0h.5V256.7h.5V256.6h.5V256.2h.5V255.5h.5V255.5h.5V256.3h.5V256.6h.5V256.7h.5V256.4h.5V256.0h.5V255.0h.5V255.0h.5V256.1h.5V256.9h.5V256.4h.5V256.9h.5h.5h.5h.5h.5V256.4h.5V256.0h.5V255.0h.5V253.3h.5V249.1h.5V249.0h.5V249.4h.5V253.7h.5V255.0h.5V255.9h.5V256.1h.5V256.1h.5V256.9h.5h.5h.5V256.3h.5h.5h.5V256.9h.5h.5h.5h.5h.5V256.3h.5h.5h.5V256.9h.5h.5h.5h.5h.5V256.3h.5h.5h.5V256.9h.5h.5h.5h.5h.5h.5h.5V256.3h.5h.5h.5V256.9h.5h.5h.5h.5h.5h.5h.5h.5h.5V256.3h.5h.5h.5V256.9h.5h.5h.5h.5h.5h.5h.5h.5h.5h.5h.5h.5h.5h.5h.5h.5h.5h.5h.5h.5h.5h.5h.5h.5h.5h.5h.5h.5h.5h.5h.5h.5h.5h.5h.5h.5h.5h.5h.5h.5h.5h.5h.5h.5h.5h.5h.5h.5h.5h.5h.5h.5h.5h.5h.5h.5h.5h.5h.5h.5h.5h.5h.5h.5h.5h.5h.5h.5h.5h.5h.5h.5h.5h.5h.5h.5h.5h.5h.5h.5h.5h.5h.5h.5h.5h.5h.5h.5h.5h.5h.5h.5h.5h.5h.5h.5h.5V256.1h.5V256.3h.5V256.4h.5V256.4h.5V256.1h.5V256.3h.5V255.9h.5V254.8h.5V252.9h.5V248.4h.5V248.5h.5V248.4h.5V256.3h.5V253.3h.5V254.8h.5V256.0h.5V256.0h.5V256.1h.5V256.4h.5V256.9h.5h.5h.5h.5h.5h.5h.5V256.7h.5V256.4h.5V255.9h.5V254.9h.5V254.8h.5V256.0h.5V256.4h.5V256.6h.5V256.9h.5h.5h.5h.5h.5h.5h.5h.5h.5h.5h.5h.5h.5h.5h.5h.5h.5h.5h.5h.5h.5h.5h.5h.5h.5h.5h.5h.5h.5V256.3h.5V256.9h.5V256.3h.5V256.9h.5V256.3h.5V256.9h.5h.5h.5h.5h.5h.5h.5h.5h.5h.5h.5h.5h.5h.5V256.3h.5h.5h.5V256.9h.5h.5h.5V255.4h.5h.5h.5V256.9h.5V256.7h.5V256.5h.5V256.3h.5V255.4h.5V255.4h.5V255.3h.5V256.2h.5V256.5h.5V256.7h.5V256.9h.5h.5h.5h.5h.5h.5h.5h.5h.5h.5h.5h.5h.5h.5h.5h.5h.5h.5h.5h.5h.5h.5h.5h.5h.5h.5h.5h.5h.5h.5h.5h.5h.5h.5h.5h.5h.5h.5h.5h.5h.5h.5h.5h.5h.5h.5h.5h.5h.5h.5h.5h.5h.5h.5h.5h.5h.5h.5h.5h.5h.5h.5h.5h.5h.5h.5h.5h.5V256.2h.5V256.0h.5V255.0h.5V252.7h.5V249.4h.5V248.9h.5V249.3h.5V248.6h.5V253.1h.5V254.9h.5V255.9h.5V256.4h.5V256.3h.5V255.6h.5V253.7h.5V251.6h.5V245.1h.5V244.9h.5V244.7h.5V245.1h.5V251.1h.5V254.1h.5V255.4h.5V256.9h.5h.5h.5h.5h.5h.5h.5h.5h.5h.5h.5h.5h.5h.5h.5h.5V256.3h.5h.5h.5V256.9h.5h.5h.5V256.3h.5h.5h.5V256.9h.5h.5h.5h.5h.5V256.3h.5h.5h.5V256.9h.5h.5h.5h.5h.5V256.3h.5h.5h.5V256.9h.5h.5h.5h.5h.5V256.3h.5h.5h.5V256.9h.5h.5h.5h.5h.5h.5h.5h.5h.5h.5V256.9z" fill="#2e2e9e"/>
<path d="M100 272.6h.5h.5h.5h.5h.5h.5h.5h.5h.5h.5h.5h.5h.5h.5h.5h.5h.5V272.3h.5V272.2h.5V272.2h.5V272.3h.5V272.0h.5V272.1h.5V272.3h.5V272.1h.5V272.3h.5V272.6h.5V272.1h.5V272.6h.5V272.2h.5V272.3h.5V272.6h.5V272.3h.5V272.4h.5V272.3h.5V272.2h.5V272.3h.5V272.6h.5h.5V272.0h.5V272.1h.5V271.7h.5V272.6h.5V272.4h.5V272.1h.5V272.0h.5V272.0h.5V272.1h.5V272.6h.5V272.3h.5V272.1h.5V272.2h.5V272.3h.5V271.2h.5V272.2h.5V272.4h.5V272.6h.5V272.1h.5V272.6h.5V272.0h.5V272.1h.5V272.1h.5V272.6h.5V272.2h.5V272.4h.5V272.3h.5V272.6h.5V272.2h.5V272.2h.5V272.1h.5V272.2h.5V271.9h.5V271.2h.5V271.1h.5V271.2h.5V272.0h.5V272.2h.5V272.4h.5V272.2h.5V272.0h.5V272.1h.5V272.1h.5V271.2h.5V271.4h.5V270.5h.5V268.8h.5V263.1h.5V262.9h.5V262.9h.5V267.6h.5V270.6h.5V271.2h.5V271.3h.5V272.0h.5V272.4h.5V272.3h.5V270.9h.5V272.4h.5V272.6h.5V270.9h.5V272.3h.5V272.1h.5V272.6h.5V271.0h.5V272.0h.5V272.1h.5V271.0h.5V272.6h.5V272.1h.5V272.2h.5V272.2h.5V272.3h.5V272.1h.5V272.2h.5V272.1h.5V272.4h.5V272.6h.5V272.3h.5V272.1h.5V272.2h.5V272.6h.5h.5h.5h.5h.5h.5h.5h.5h.5h.5V272.2h.5V272.6h.5h.5V271.4h.5V272.1h.5V272.6h.5V272.1h.5V272.6h.5V272.1h.5V272.6h.5V272.3h.5V272.1h.5V272.0h.5V272.1h.5V271.0h.5V271.3h.5V271.1h.5V270.5h.5V268.4h.5V268.6h.5V268.5h.5V271.6h.5V270.7h.5V271.2h.5V269.6h.5V266.6h.5V261.7h.5V261.6h.5V260.6h.5V267.4h.5V269.7h.5V271.0h.5V270.1h.5V267.3h.5V267.3h.5V267.6h.5V271.7h.5V270.5h.5V271.3h.5V271.5h.5V272.2h.5V272.0h.5V271.4h.5V272.0h.5V272.6h.5V272.1h.5V272.4h.5V272.0h.5V272.2h.5V272.3h.5V272.2h.5V272.3h.5V270.9h.5V270.7h.5V272.1h.5V272.6h.5V272.4h.5V272.6h.5h.5V272.3h.5V272.6h.5V272.3h.5V270.9h.5V271.2h.5V271.4h.5V271.2h.5V270.3h.5V268.1h.5V267.6h.5V267.8h.5V270.1h.5V271.0h.5V270.9h.5V270.0h.5V268.1h.5V262.3h.5V262.3h.5V262.6h.5V270.4h.5V267.5h.5V268.1h.5V268.6h.5V271.3h.5V270.4h.5V271.6h.5V271.0h.5V271.6h.5V270.9h.5V270.9h.5V270.9h.5V272.6h.5h.5V270.7h.5V272.3h.5V272.3h.5V272.2h.5V272.2h.5V272.1h.5V272.6h.5h.5V272.2h.5V270.7h.5V272.6h.5V272.2h.5V270.6h.5V272.4h.5V272.6h.5h.5h.5h.5h.5h.5h.5V272.4h.5V272.3h.5V272.2h.5V272.4h.5V272.6h.5V271.6h.5V272.3h.5V272.3h.5V272.3h.5V272.3h.5V272.6h.5h.5V272.1h.5V272.0h.5V272.3h.5V272.0h.5V272.6h.5h.5h.5h.5V272.0h.5V272.6h.5V272.1h.5V272.4h.5V272.4h.5V272.1h.5V272.6h.5V272.0h.5V272.6h.5V272.3h.5V272.2h.5V272.6h.5V272.2h.5V272.3h.5V272.4h.5V272.2h.5V272.2h.5V272.3h.5V272.3h.5V271.1h.5V272.6h.5V272.1h.5V272.2h.5V272.2h.5V272.3h.5V272.2h.5V272.1h.5V272.2h.5V272.3h.5V272.4h.5V272.6h.5V271.3h.5V272.4h.5V272.1h.5V272.3h.5V272.1h.5V272.6h.5V272.1h.5V272.1h.5V272.3h.5V272.6h.5V272.2h.5V272.2h.5V272.1h.5V272.2h.5V272.3h.5V272.2h.5V272.1h.5V272.3h.5V272.2h.5V270.7h.5V272.1h.5V272.6h.5V272.0h.5V271.1h.5V272.1h.5V272.2h.5V272.2h.5V272.3h.5V272.6h.5V272.4h.5V272.2h.5V272.0h.5V272.2h.5V271.4h.5V271.0h.5V269.4h.5V266.5h.5V266.7h.5V266.5h.5V271.8h.5V269.8h.5V271.0h.5V271.8h.5V272.1h.5V272.1h.5V272.4h.5V272.2h.5V272.2h.5V272.1h.5V272.2h.5V272.3h.5V272.4h.5V272.1h.5V272.4h.5V272.3h.5V272.3h.5V270.7h.5V272.2h.5V270.7h.5V272.2h.5V271.4h.5V271.4h.5V271.6h.5V270.9h.5V269.0h.5V264.4h.5V264.2h.5V264.3h.5V271.2h.5V268.5h.5V270.8h.5V271.1h.5V271.5h.5V270.1h.5V270.2h.5V270.4h.5V271.4h.5V271.5h.5V271.6h.5V271.3h.5V271.7h.5V270.7h.5V270.8h.5V270.8h.5V271.4h.5V271.8h.5V271.4h.5V271.3h.5V271.4h.5V271.5h.5V271.8h.5V271.5h.5V271.8h.5V271.4h.5V271.7h.5V271.4h.5V272.1h.5V272.0h.5V272.1h.5V272.4h.5V272.3h.5V272.1h.5V272.3h.5V272.4h.5V272.6h.5V272.4h.5V272.3h.5V272.4h.5V272.3h.5V272.6h.5V272.3h.5V272.3h.5V272.1h.5V270.8h.5V271.4h.5V272.3h.5V272.6h.5V270.9h.5V272.1h.5V270.7h.5V272.1h.5V272.1h.5V270.9h.5V272.0h.5V272.4h.5V272.3h.5V272.1h.5V272.4h.5V272.3h.5V272.1h.5V272.3h.5V272.0h.5V272.0h.5V272.3h.5V272.6h.5V272.3h.5V272.2h.5V272.4h.5V272.3h.5V272.3h.5V272.4h.5V272.3h.5V271.7h.5V272.6h.5V270.9h.5V272.6h.5V272.2h.5V272.2h.5V272.1h.5V272.1h.5V272.3h.5V272.1h.5V272.1h.5V272.6h.5h.5V272.1h.5V272.3h.5V272.6h.5V272.2h.5V272.3h.5V272.1h.5V272.6h.5V272.0h.5V272.3h.5V272.4h.5V272.2h.5V272.6h.5V271.2h.5V272.4h.5V272.6h.5h.5V272.3h.5V272.2h.5V272.1h.5V272.6h.5h.5V272.2h.5V272.3h.5V272.2h.5V272.6h.5h.5h.5h.5h.5V272.4h.5V272.3h.5V272.2h.5V272.3h.5V272.6h.5V272.1h.5V271.0h.5V272.2h.5V272.2h.5V272.0h.5V272.1h.5V271.1h.5V272.2h.5V272.4h.5V272.4h.5V271.2h.5V272.6h.5V272.1h.5V272.1h.5V272.2h.5V272.2h.5V272.1h.5V272.3h.5V272.3h.5V272.2h.5V272.6h.5V272.2h.5V272.6h.5h.5V272.3h.5V271.4h.5V271.4h.5V271.2h.5V271.0h.5V271.6h.5V270.9h.5V271.4h.5V271.0h.5V270.5h.5V268.3h.5V268.4h.5V268.3h.5V271.0h.5V270.9h.5V271.3h.5V271.3h.5V271.6h.5V271.3h.5V271.6h.5V271.3h.5V271.3h.5V271.4h.5V271.5h.5V271.4h.5V271.1h.5V271.2h.5V272.6h.5V272.1h.5V272.2h.5V272.2h.5V272.6h.5h.5V272.1h.5V272.6h.5V272.1h.5V272.1h.5V272.6h.5h.5V272.1h.5V272.1h.5V272.2h.5V272.3h.5V272.6h.5V272.3h.5V272.3h.5V272.2h.5V272.3h.5V271.4h.5V272.2h.5V272.6h.5V272.2h.5V272.2h.5V272.6h.5h.5h.5h.5h.5h.5h.5h.5V272.2h.5V272.6h.5V272.0h.5V272.4h.5V272.1h.5V272.3h.5V272.1h.5V272.0h.5V270.8h.5V272.6h.5V272.3h.5V272.1h.5V272.6h.5V272.1h.5V272.1h.5V271.2h.5V272.3h.5V272.3h.5V270.7h.5V272.4h.5V272.3h.5V272.3h.5V270.8h.5V272.2h.5V272.2h.5V272.3h.5V272.1h.5V272.0h.5V272.2h.5V272.6h.5V271.2h.5V272.3h.5V272.6h.5V272.4h.5V272.4h.5V272.3h.5V272.6h.5V272.3h.5V272.3h.5V272.3h.5V272.6h.5V272.3h.5V272.6h.5V272.0h.5V272.4h.5V272.1h.5V272.2h.5V272.6h.5h.5V272.3h.5V272.3h.5V272.1h.5V272.3h.5V272.1h.5V272.6h.5V272.1h.5V272.2h.5V272.6h.5V272.2h.5V272.0h.5V272.3h.5V272.3h.5V272.6h.5h.5V271.6h.5V272.6h.5V272.3h.5V271.5h.5V271.3h.5V272.6h.5V272.0h.5V272.1h.5V271.1h.5V272.4h.5V272.3h.5V272.6h.5V272.3h.5V272.1h.5V272.2h.5V272.2h.5V272.6h.5V272.0h.5V272.6h.5V272.3h.5V271.7h.5V272.2h.5V270.9h.5V272.2h.5V272.1h.5V272.3h.5V272.2h.5V272.3h.5V272.6h.5V272.0h.5V272.2h.5V272.4h.5V272.6h.5V272.4h.5V272.1h.5V272.0h.5V272.1h.5V272.0h.5V272.1h.5V272.2h.5V272.1h.5V272.2h.5V272.3h.5V272.6h.5V272.2h.5V272.3h.5V271.5h.5V271.6h.5V271.0h.5V270.0h.5V266.7h.5V266.1h.5V266.6h.5V270.9h.5V269.4h.5V271.0h.5V271.2h.5V271.1h.5V271.5h.5V271.1h.5V271.1h.5V270.2h.5V266.6h.5V267.0h.5V266.6h.5V271.5h.5V270.0h.5V271.4h.5V271.2h.5V271.5h.5V272.1h.5V272.1h.5V272.6h.5h.5h.5h.5h.5h.5h.5h.5V272.2h.5V272.6h.5V272.1h.5V272.3h.5V272.2h.5V272.0h.5V271.0h.5V272.1h.5V272.0h.5V272.2h.5V272.6h.5V272.2h.5V272.2h.5V272.4h.5V270.8h.5V270.9h.5V271.0h.5V272.4h.5V272.2h.5V272.6h.5h.5h.5V272.2h.5V272.3h.5V272.3h.5V272.6h.5V272.2h.5V272.1h.5V272.6h.5h.5V272.4h.5V272.2h.5V272.3h.5V272.6h.5V272.2h.5V272.2h.5V272.3h.5V272.3h.5V272.2h.5V272.2h.5V272.6h.5h.5h.5h.5h.5h.5h.5h.5V272.6z" fill="#c42a2a"/>
<path d="M100 288.6h.5h.5h.5h.5h.5h.5h.5h.5h.5h.5h.5h.5h.5h.5h.5h.5h.5h.5h.5h.5h.5h.5h.5h.5h.5V288.3h.5V288.2h.5V288.6h.5V288.0h.5V288.6h.5V287.0h.5V288.3h.5V288.2h.5V288.0h.5V288.0h.5V288.1h.5V288.1h.5V288.6h.5V288.4h.5V288.0h.5V288.6h.5V288.2h.5V288.1h.5V288.1h.5V288.2h.5V288.6h.5V288.1h.5V288.1h.5V288.3h.5V288.1h.5V288.2h.5V288.6h.5V288.3h.5V287.4h.5V288.0h.5V288.0h.5V288.6h.5h.5h.5h.5h.5h.5h.5V288.2h.5V288.2h.5V288.3h.5V288.2h.5V288.6h.5V288.3h.5V288.2h.5V288.1h.5V288.0h.5V288.1h.5V288.4h.5V288.6h.5V288.0h.5V288.4h.5V288.1h.5V288.4h.5V288.0h.5V288.1h.5V288.1h.5V287.8h.5V287.0h.5V286.2h.5V282.7h.5V277.6h.5V277.4h.5V277.5h.5V283.7h.5V285.6h.5V287.3h.5V287.8h.5V288.6h.5V288.1h.5V288.6h.5V288.1h.5V288.4h.5V288.3h.5V288.4h.5V288.1h.5V288.4h.5V288.6h.5V287.0h.5V288.4h.5V288.1h.5V288.4h.5V288.3h.5V288.3h.5V288.1h.5V288.6h.5V286.8h.5V288.2h.5V288.1h.5V288.2h.5V288.1h.5V288.6h.5h.5h.5V288.4h.5V288.6h.5h.5h.5h.5h.5h.5h.5h.5h.5h.5h.5h.5h.5V288.2h.5V288.2h.5V288.2h.5V288.1h.5V288.3h.5V288.3h.5V288.0h.5V288.0h.5V288.4h.5V286.8h.5V288.3h.5V288.1h.5V287.5h.5V286.5h.5V284.3h.5V284.4h.5V284.6h.5V287.5h.5V286.5h.5V287.3h.5V286.3h.5V284.3h.5V280.2h.5V279.8h.5V280.0h.5V287.6h.5V284.4h.5V286.5h.5V287.4h.5V287.2h.5V285.7h.5V285.7h.5V285.5h.5V287.3h.5V287.2h.5V287.4h.5V287.3h.5V287.7h.5V287.4h.5V287.5h.5V286.9h.5V287.6h.5V287.4h.5V287.6h.5V287.4h.5V287.6h.5V287.8h.5V288.6h.5V288.4h.5V288.1h.5V287.4h.5V288.6h.5V288.0h.5V288.3h.5V286.9h.5V288.1h.5V288.3h.5V288.1h.5V288.6h.5h.5V287.6h.5V287.6h.5V287.7h.5V287.3h.5V286.2h.5V283.7h.5V283.7h.5V283.5h.5V286.1h.5V287.3h.5V287.3h.5V285.5h.5V283.3h.5V277.3h.5V276.8h.5V276.9h.5V282.5h.5V285.9h.5V287.2h.5V286.8h.5V284.1h.5V284.1h.5V284.3h.5V287.8h.5V286.8h.5V287.5h.5V287.4h.5V287.6h.5V287.5h.5V287.8h.5V287.7h.5V287.7h.5V287.8h.5V287.4h.5V288.6h.5h.5V288.1h.5V288.6h.5V288.4h.5V288.6h.5V288.3h.5V288.3h.5V288.2h.5V288.6h.5V288.1h.5V288.6h.5V288.3h.5V288.6h.5V288.1h.5V288.6h.5V288.1h.5V288.1h.5V288.4h.5V288.3h.5V288.6h.5V288.1h.5V288.3h.5V287.7h.5V288.4h.5V288.6h.5h.5h.5h.5h.5h.5h.5h.5h.5h.5h.5V288.1h.5V288.3h.5V288.2h.5V288.1h.5V288.3h.5V288.6h.5V288.3h.5V288.6h.5h.5V288.4h.5V288.3h.5V288.1h.5V288.4h.5V288.6h.5V288.2h.5V287.7h.5V288.6h.5V288.3h.5V288.1h.5V288.2h.5V288.1h.5V288.1h.5V288.3h.5V288.1h.5V288.4h.5V288.3h.5V288.4h.5V288.4h.5V288.3h.5V288.4h.5V288.2h.5V288.6h.5V287.5h.5V288.1h.5V288.6h.5h.5V288.2h.5V288.1h.5V287.4h.5V288.6h.5V288.4h.5V288.3h.5V288.4h.5V288.6h.5V288.4h.5V288.4h.5V288.2h.5V288.2h.5V288.1h.5V288.6h.5V288.3h.5V288.6h.5V288.2h.5V288.6h.5V288.4h.5V288.3h.5V288.0h.5V288.4h.5V288.6h.5V288.2h.5V288.6h.5V288.2h.5V287.9h.5V287.4h.5V286.3h.5V283.5h.5V283.5h.5V283.2h.5V287.5h.5V286.3h.5V287.4h.5V287.6h.5V287.5h.5V288.2h.5V288.0h.5V288.0h.5V288.2h.5V288.4h.5V288.3h.5V288.6h.5h.5V288.1h.5V288.6h.5V288.4h.5V288.2h.5V288.6h.5h.5h.5V286.7h.5V287.8h.5V287.9h.5V287.7h.5V287.9h.5V287.4h.5V287.4h.5V286.3h.5V283.3h.5V283.3h.5V283.5h.5V286.2h.5V287.2h.5V287.5h.5V287.5h.5V287.6h.5V287.1h.5V287.8h.5V287.6h.5V287.5h.5V287.4h.5V287.4h.5V287.4h.5V287.7h.5V287.7h.5V287.8h.5V287.4h.5V287.8h.5V287.8h.5V288.4h.5V288.3h.5V287.5h.5V287.4h.5V288.0h.5V288.0h.5V288.6h.5V288.2h.5V288.2h.5V287.6h.5V287.0h.5V288.1h.5V288.2h.5V288.2h.5V288.1h.5V288.3h.5V288.4h.5V288.1h.5V288.6h.5V288.4h.5V288.6h.5h.5h.5h.5h.5h.5h.5h.5h.5V288.3h.5V288.4h.5V288.3h.5V288.1h.5V288.3h.5V288.1h.5V288.3h.5V288.3h.5V288.1h.5V288.6h.5V288.1h.5V288.1h.5V288.4h.5V288.3h.5V288.6h.5h.5V288.4h.5V288.3h.5V288.1h.5V287.3h.5V288.1h.5V288.2h.5V288.3h.5V288.0h.5V288.2h.5V288.4h.5V288.6h.5h.5V288.2h.5V286.9h.5V288.4h.5V286.6h.5V288.1h.5V288.4h.5V288.1h.5V288.1h.5V288.4h.5V288.4h.5V288.0h.5V288.6h.5V288.2h.5V288.1h.5V288.3h.5V288.6h.5V288.3h.5V288.2h.5V288.6h.5V288.3h.5V288.3h.5V288.1h.5V288.6h.5V286.9h.5V288.0h.5V288.1h.5V288.3h.5V288.4h.5V288.2h.5V288.1h.5V288.1h.5V288.6h.5V288.1h.5V288.2h.5V288.6h.5V288.3h.5V288.6h.5V288.1h.5V288.6h.5V288.1h.5V288.4h.5V288.6h.5V288.3h.5V288.1h.5V288.3h.5V288.4h.5V288.4h.5V288.3h.5V288.1h.5V288.6h.5V288.0h.5V288.1h.5V288.2h.5V288.1h.5V288.2h.5V288.6h.5V288.3h.5V288.1h.5V288.4h.5V288.1h.5V287.1h.5V288.6h.5V288.3h.5V288.3h.5V288.6h.5h.5V288.1h.5V288.6h.5V288.3h.5V288.2h.5V288.3h.5V288.6h.5h.5V287.7h.5V287.3h.5V287.3h.5V287.7h.5V287.3h.5V287.3h.5V286.2h.5V283.6h.5V278.9h.5V279.8h.5V279.5h.5V287.3h.5V284.2h.5V286.3h.5V287.5h.5V287.7h.5V287.9h.5V287.6h.5V287.6h.5V286.8h.5V288.2h.5V288.3h.5V288.3h.5V288.2h.5V288.3h.5V288.3h.5V288.2h.5V288.2h.5V288.6h.5V288.2h.5V288.4h.5V288.2h.5V288.3h.5V288.3h.5V288.6h.5V286.8h.5V288.1h.5V288.6h.5V288.3h.5V288.1h.5V288.6h.5V288.1h.5V288.1h.5V288.2h.5V288.4h.5V288.6h.5h.5V288.2h.5V288.0h.5V288.0h.5V288.6h.5h.5h.5h.5h.5h.5h.5h.5h.5h.5h.5h.5h.5V288.3h.5V288.1h.5V288.2h.5V288.2h.5V288.1h.5V288.4h.5V286.8h.5V288.4h.5V288.1h.5V288.6h.5h.5V288.4h.5V288.6h.5V288.1h.5V288.6h.5V286.7h.5V288.0h.5V287.6h.5V288.1h.5V288.3h.5V288.0h.5V288.2h.5V288.3h.5V288.6h.5h.5V288.3h.5V288.1h.5V288.1h.5V288.1h.5V288.0h.5V288.1h.5V287.7h.5V286.6h.5V286.5h.5V286.5h.5V287.6h.5V288.1h.5V288.3h.5V288.1h.5V288.2h.5V288.6h.5h.5h.5V288.2h.5V288.1h.5V288.0h.5V288.1h.5V288.3h.5V288.6h.5V288.0h.5V288.1h.5V288.2h.5V288.6h.5V288.0h.5V288.4h.5V288.1h.5V288.3h.5V288.4h.5V288.3h.5V288.3h.5V288.6h.5h.5h.5V288.1h.5V288.1h.5V288.2h.5V288.3h.5V288.6h.5h.5h.5h.5h.5h.5h.5h.5h.5V286.6h.5V288.3h.5V288.3h.5V288.6h.5V288.4h.5V288.6h.5h.5V288.2h.5V288.3h.5V288.6h.5V288.1h.5V288.2h.5V288.0h.5V288.3h.5V288.6h.5V288.2h.5V288.6h.5V288.2h.5V288.6h.5V286.7h.5V288.6h.5V288.3h.5V288.0h.5V288.6h.5V288.2h.5V288.3h.5V288.3h.5V288.1h.5V288.0h.5V287.6h.5V287.3h.5V287.1h.5V285.8h.5V282.6h.5V282.5h.5V282.8h.5V287.3h.5V285.9h.5V287.0h.5V287.7h.5V287.1h.5V287.2h.5V287.4h.5V286.4h.5V284.6h.5V279.1h.5V278.9h.5V279.1h.5V287.4h.5V284.1h.5V286.2h.5V287.5h.5V287.7h.5V288.6h.5V288.0h.5V288.4h.5V288.6h.5h.5V288.3h.5V288.1h.5V288.6h.5h.5h.5V288.3h.5V288.3h.5V288.6h.5V288.3h.5V288.1h.5V288.2h.5V288.2h.5V287.2h.5V288.3h.5V288.6h.5V287.2h.5V288.1h.5V288.1h.5V288.0h.5V288.4h.5V288.4h.5V288.3h.5V288.3h.5V288.3h.5V288.6h.5V288.3h.5V288.1h.5V288.1h.5V288.3h.5V288.1h.5V288.1h.5V288.4h.5V288.6h.5V288.2h.5V286.9h.5V288.6h.5V288.1h.5V288.1h.5V288.4h.5V288.0h.5V288.2h.5V288.2h.5V288.6h.5V288.1h.5V288.2h.5V288.6h.5h.5h.5h.5h.5h.5h.5h.5V288.6z" fill="#2a9e2a"/>
<path d="M100 303.6h.5h.5h.5h.5h.5h.5h.5h.5h.5h.5h.5h.5h.5h.5h.5h.5h.5h.5h.5h.5h.5h.5h.5h.5h.5h.5h.5h.5h.5h.5h.5h.5h.5h.5h.5h.5h.5h.5h.5h.5h.5h.5h.5h.5h.5h.5h.5h.5h.5h.5h.5h.5h.5h.5h.5h.5h.5h.5h.5h.5h.5h.5h.5h.5h.5h.5h.5h.5h.5h.5h.5h.5h.5h.5h.5h.5h.5h.5h.5h.5h.5V302.6h.5V302.2h.5V302.3h.5V301.2h.5V298.8h.5V293.4h.5V293.6h.5V293.1h.5V298.2h.5V301.0h.5V302.5h.5V302.3h.5V303.6h.5h.5h.5h.5h.5h.5h.5h.5h.5h.5h.5h.5h.5h.5h.5h.5h.5h.5h.5h.5h.5h.5h.5h.5h.5h.5h.5h.5h.5h.5h.5h.5h.5h.5h.5h.5h.5h.5h.5h.5h.5h.5h.5h.5h.5h.5h.5h.5h.5h.5V303.0h.5V302.2h.5V300.8h.5V298.0h.5V293.1h.5V292.7h.5V293.0h.5V302.2h.5V298.8h.5V300.8h.5V300.7h.5V297.2h.5V291.5h.5V291.7h.5V292.0h.5V302.6h.5V297.4h.5V300.5h.5V302.2h.5V300.8h.5V298.0h.5V297.7h.5V298.0h.5V301.1h.5V302.2h.5V302.2h.5V303.3h.5V303.6h.5h.5h.5h.5h.5h.5h.5h.5h.5h.5h.5h.5h.5h.5h.5h.5h.5h.5h.5h.5h.5h.5h.5V303.2h.5V302.1h.5V301.9h.5V300.7h.5V296.9h.5V296.4h.5V296.3h.5V300.3h.5V302.1h.5V302.6h.5V301.1h.5V298.7h.5V293.3h.5V294.0h.5V293.5h.5V302.3h.5V299.0h.5V301.2h.5V302.1h.5V300.7h.5V297.1h.5V297.4h.5V297.0h.5V300.4h.5V302.2h.5V302.8h.5V303.3h.5V303.6h.5h.5h.5h.5h.5h.5h.5h.5h.5h.5h.5h.5h.5h.5h.5h.5h.5h.5h.5h.5h.5h.5h.5h.5h.5h.5h.5h.5h.5h.5h.5h.5h.5h.5h.5h.5h.5h.5h.5h.5h.5h.5h.5h.5h.5h.5h.5h.5h.5h.5h.5h.5h.5h.5h.5h.5h.5h.5h.5h.5V302.8h.5V302.3h.5V303.6h.5h.5h.5h.5h.5h.5h.5h.5V302.4h.5V302.8h.5V303.6h.5h.5h.5h.5h.5h.5h.5h.5V302.1h.5V302.4h.5V303.6h.5h.5h.5h.5V302.3h.5V302.5h.5V303.6h.5h.5h.5h.5h.5h.5h.5h.5h.5h.5h.5h.5h.5h.5h.5h.5h.5h.5V302.4h.5V302.6h.5V301.9h.5V300.3h.5V296.3h.5V296.7h.5V296.8h.5V300.2h.5V302.0h.5V302.4h.5V303.2h.5V303.6h.5h.5h.5h.5h.5h.5h.5h.5h.5h.5h.5h.5h.5h.5h.5V302.6h.5V302.5h.5V302.8h.5V302.8h.5V302.1h.5V300.8h.5V297.5h.5V297.7h.5V297.1h.5V302.9h.5V300.5h.5V302.2h.5V302.7h.5V302.6h.5V302.9h.5V302.6h.5V302.8h.5V302.6h.5V302.9h.5V302.8h.5V302.7h.5V302.7h.5V302.8h.5V302.0h.5V300.3h.5V300.2h.5V300.4h.5V302.0h.5V302.8h.5V302.5h.5V302.7h.5V302.7h.5V303.6h.5h.5h.5h.5h.5h.5h.5h.5V302.9h.5V302.2h.5V303.6h.5h.5h.5h.5h.5h.5V302.8h.5V302.8h.5V303.6h.5h.5h.5h.5h.5h.5h.5h.5V302.4h.5V302.8h.5V303.6h.5h.5h.5h.5h.5h.5h.5h.5V302.6h.5V302.4h.5V303.6h.5h.5h.5h.5h.5h.5h.5h.5h.5h.5h.5h.5h.5h.5h.5h.5h.5h.5h.5h.5h.5h.5h.5h.5h.5h.5h.5h.5h.5h.5h.5h.5h.5h.5h.5h.5h.5h.5V302.9h.5V302.4h.5V303.6h.5h.5h.5h.5h.5h.5h.5h.5h.5h.5h.5h.5h.5h.5V302.9h.5V302.6h.5V303.6h.5h.5h.5h.5h.5h.5h.5h.5h.5h.5h.5h.5h.5h.5V302.4h.5V302.4h.5V303.6h.5h.5h.5h.5h.5h.5h.5h.5h.5h.5h.5h.5h.5h.5h.5h.5h.5h.5V302.5h.5V302.8h.5V302.3h.5V301.2h.5V299.2h.5V293.6h.5V293.2h.5V293.4h.5V302.6h.5V298.6h.5V301.0h.5V300.8h.5V297.3h.5V297.2h.5V296.8h.5V302.8h.5V300.8h.5V302.1h.5V302.6h.5V302.8h.5V302.8h.5V302.5h.5V302.8h.5V302.6h.5V302.2h.5V300.5h.5V300.4h.5V300.3h.5V302.1h.5V302.3h.5V302.7h.5V302.9h.5V303.6h.5h.5h.5h.5h.5h.5h.5h.5h.5h.5h.5h.5h.5h.5h.5h.5h.5h.5h.5h.5h.5h.5h.5h.5h.5h.5V303.0h.5V302.8h.5V303.6h.5h.5h.5h.5h.5h.5h.5h.5V302.1h.5V302.6h.5V303.6h.5h.5h.5h.5h.5h.5h.5h.5h.5h.5h.5h.5h.5h.5V302.6h.5V302.7h.5V303.6h.5h.5h.5V303.5h.5V303.3h.5V302.9h.5V302.2h.5V300.9h.5V300.6h.5V300.8h.5V302.2h.5V302.9h.5V303.3h.5V303.4h.5V303.6h.5h.5h.5h.5h.5h.5h.5h.5h.5h.5h.5h.5h.5h.5h.5h.5h.5h.5h.5h.5h.5h.5h.5h.5h.5h.5h.5h.5V302.4h.5V302.3h.5V303.6h.5h.5h.5h.5h.5h.5h.5h.5h.5h.5h.5h.5h.5h.5h.5h.5h.5h.5h.5h.5h.5h.5h.5h.5h.5h.5h.5h.5h.5h.5h.5h.5h.5h.5h.5h.5V301.6h.5V301.8h.5V301.8h.5V299.9h.5V296.1h.5V296.4h.5V296.1h.5V296.3h.5V300.3h.5V301.7h.5V302.0h.5V301.9h.5V302.3h.5V301.7h.5V301.6h.5V299.8h.5V295.9h.5V295.5h.5V295.5h.5V295.3h.5V299.3h.5V301.5h.5V302.1h.5V302.3h.5V303.6h.5h.5h.5h.5h.5h.5h.5h.5V302.4h.5V302.6h.5V303.6h.5h.5h.5h.5h.5h.5h.5h.5V302.5h.5V302.5h.5V303.6h.5h.5h.5h.5h.5h.5h.5h.5V302.8h.5V302.1h.5V303.6h.5h.5h.5h.5h.5h.5h.5h.5V302.1h.5V302.3h.5V303.6h.5h.5h.5h.5h.5h.5V302.1h.5V302.6h.5V303.6h.5h.5h.5h.5h.5h.5h.5h.5h.5h.5V303.6z" fill="#978a26"/>
<rect x="110.4" y="308.5" width="366.2" height="20" fill="#fff" stroke="#c8c8c8" stroke-width="1.5"/>
<rect x="198.8" y="317.3" width="1" height="1" fill="#e8642a" fill-opacity="0.75"/><rect x="200.7" y="317.8" width="1" height="1" fill="#f6b860" fill-opacity="0.65"/><rect x="470.1" y="318.9" width="1" height="1" fill="#ef8a2a" fill-opacity="0.88"/><rect x="173.2" y="311.2" width="1" height="1" fill="#f3c27a" fill-opacity="0.74"/><rect x="447.1" y="310.7" width="1" height="1" fill="#ef8a2a" fill-opacity="0.56"/><rect x="449.1" y="312.6" width="1" height="1" fill="#f4a03a" fill-opacity="0.62"/><rect x="140.3" y="319.5" width="1" height="1" fill="#ef8a2a" fill-opacity="0.67"/><rect x="446.3" y="310.6" width="1" height="1" fill="#ef8a2a" fill-opacity="0.68"/><rect x="278.3" y="310.6" width="1" height="1" fill="#e8642a" fill-opacity="0.69"/><rect x="143.9" y="314.3" width="1" height="1" fill="#ef8a2a" fill-opacity="0.94"/><rect x="144.0" y="318.4" width="1" height="1" fill="#f4a03a" fill-opacity="0.78"/><rect x="447.4" y="316.8" width="1" height="1" fill="#f3c27a" fill-opacity="0.57"/><rect x="446.8" y="313.8" width="1" height="1" fill="#ef8a2a" fill-opacity="0.54"/><rect x="397.9" y="316.5" width="1" height="1" fill="#e8782a" fill-opacity="0.77"/><rect x="407.5" y="315.5" width="1" height="1" fill="#e8782a" fill-opacity="0.52"/><rect x="265.2" y="310.7" width="1" height="1" fill="#e8782a" fill-opacity="0.61"/><rect x="455.2" y="312.3" width="1" height="1" fill="#e8782a" fill-opacity="0.92"/><rect x="273.6" y="314.4" width="1" height="1" fill="#f9d49a" fill-opacity="0.75"/><rect x="362.4" y="311.4" width="1" height="1" fill="#f4a03a" fill-opacity="0.61"/><rect x="436.8" y="310.9" width="1" height="1" fill="#ef8a2a" fill-opacity="0.59"/><rect x="179.6" y="313.1" width="1" height="1" fill="#e8642a" fill-opacity="0.70"/><rect x="341.6" y="311.4" width="1" height="1" fill="#f4a03a" fill-opacity="0.58"/><rect x="208.6" y="317.3" width="1" height="1" fill="#f3c27a" fill-opacity="0.93"/><rect x="448.3" y="311.0" width="1" height="1" fill="#f4a03a" fill-opacity="0.76"/><rect x="181.1" y="310.2" width="1" height="1" fill="#f3c27a" fill-opacity="0.50"/><rect x="440.6" y="320.0" width="1" height="1" fill="#ef8a2a" fill-opacity="0.60"/><rect x="120.8" y="318.4" width="1" height="1" fill="#f9d49a" fill-opacity="0.69"/><rect x="365.7" y="319.6" width="1" height="1" fill="#f9d49a" fill-opacity="0.54"/><rect x="201.3" y="312.3" width="1" height="1" fill="#f3c27a" fill-opacity="0.93"/><rect x="265.6" y="313.5" width="1" height="1" fill="#f6b860" fill-opacity="0.54"/><rect x="292.8" y="314.1" width="1" height="1" fill="#f3c27a" fill-opacity="0.77"/><rect x="277.8" y="318.4" width="1" height="1" fill="#e8782a" fill-opacity="0.52"/><rect x="353.7" y="312.5" width="1" height="1" fill="#f4a03a" fill-opacity="0.87"/><rect x="201.3" y="315.6" width="1" height="1" fill="#f6b860" fill-opacity="0.55"/><rect x="331.2" y="310.1" width="1" height="1" fill="#e8782a" fill-opacity="0.74"/><rect x="317.9" y="319.1" width="1" height="1" fill="#f3c27a" fill-opacity="0.86"/><rect x="268.1" y="318.8" width="1" height="1" fill="#e8642a" fill-opacity="0.83"/><rect x="338.5" y="314.6" width="1" height="1" fill="#e8642a" fill-opacity="0.91"/><rect x="182.4" y="319.4" width="1" height="1" fill="#f4a03a" fill-opacity="0.57"/><rect x="366.9" y="317.6" width="1" height="1" fill="#ef8a2a" fill-opacity="0.51"/><rect x="403.1" y="312.1" width="1" height="1" fill="#f6b860" fill-opacity="0.88"/><rect x="373.1" y="319.8" width="1" height="1" fill="#f9d49a" fill-opacity="0.65"/><rect x="442.2" y="312.2" width="1" height="1" fill="#f3c27a" fill-opacity="0.90"/><rect x="167.0" y="314.3" width="1" height="1" fill="#f9d49a" fill-opacity="0.75"/><rect x="452.5" y="309.8" width="1" height="1" fill="#e8782a" fill-opacity="0.86"/><rect x="140.4" y="311.3" width="1" height="1" fill="#f9d49a" fill-opacity="0.50"/><rect x="359.8" y="317.4" width="1" height="1" fill="#e8782a" fill-opacity="0.65"/><rect x="175.5" y="310.0" width="1" height="1" fill="#f4a03a" fill-opacity="0.88"/><rect x="440.9" y="311.1" width="1" height="1" fill="#f9d49a" fill-opacity="0.88"/><rect x="450.0" y="312.0" width="1" height="1" fill="#f4a03a" fill-opacity="0.52"/><rect x="205.3" y="318.9" width="1" height="1" fill="#ef8a2a" fill-opacity="0.85"/><rect x="414.9" y="319.8" width="1" height="1" fill="#e8782a" fill-opacity="0.94"/><rect x="173.1" y="312.9" width="1" height="1" fill="#e8642a" fill-opacity="0.68"/><rect x="358.8" y="312.2" width="1" height="1" fill="#f3c27a" fill-opacity="0.58"/><rect x="246.8" y="311.2" width="1" height="1" fill="#e8642a" fill-opacity="0.81"/><rect x="155.5" y="317.7" width="1" height="1" fill="#f9d49a" fill-opacity="0.50"/><rect x="359.4" y="312.5" width="1" height="1" fill="#f9d49a" fill-opacity="0.81"/><rect x="308.2" y="314.2" width="1" height="1" fill="#f4a03a" fill-opacity="0.66"/><rect x="170.1" y="310.4" width="1" height="1" fill="#f9d49a" fill-opacity="0.50"/><rect x="257.4" y="310.9" width="1" height="1" fill="#f6b860" fill-opacity="0.80"/><rect x="260.4" y="314.3" width="1" height="1" fill="#f4a03a" fill-opacity="0.68"/><rect x="280.5" y="317.8" width="1" height="1" fill="#f3c27a" fill-opacity="0.66"/><rect x="431.0" y="310.3" width="1" height="1" fill="#f6b860" fill-opacity="0.63"/><rect x="189.2" y="313.0" width="1" height="1" fill="#e8782a" fill-opacity="0.58"/><rect x="401.3" y="312.8" width="1" height="1" fill="#f3c27a" fill-opacity="0.91"/><rect x="275.1" y="315.5" width="1" height="1" fill="#f9d49a" fill-opacity="0.69"/><rect x="201.5" y="310.7" width="1" height="1" fill="#f3c27a" fill-opacity="0.82"/><rect x="297.6" y="311.6" width="1" height="1" fill="#f4a03a" fill-opacity="0.72"/><rect x="449.0" y="316.3" width="1" height="1" fill="#f3c27a" fill-opacity="0.79"/><rect x="448.0" y="316.5" width="1" height="1" fill="#e8782a" fill-opacity="0.68"/><rect x="199.7" y="314.2" width="1" height="1" fill="#f6b860" fill-opacity="0.63"/><rect x="393.8" y="315.7" width="1" height="1" fill="#f3c27a" fill-opacity="0.93"/><rect x="447.8" y="309.8" width="1" height="1" fill="#e8642a" fill-opacity="0.95"/><rect x="449.3" y="315.2" width="1" height="1" fill="#f6b860" fill-opacity="0.67"/><rect x="189.0" y="317.4" width="1" height="1" fill="#f6b860" fill-opacity="0.95"/><rect x="365.7" y="316.7" width="1" height="1" fill="#f4a03a" fill-opacity="0.54"/><rect x="191.8" y="313.5" width="1" height="1" fill="#f6b860" fill-opacity="0.67"/><rect x="361.4" y="314.3" width="1" height="1" fill="#f6b860" fill-opacity="0.66"/><rect x="143.3" y="317.4" width="1" height="1" fill="#f9d49a" fill-opacity="0.94"/><rect x="200.6" y="315.5" width="1" height="1" fill="#e8642a" fill-opacity="0.58"/><rect x="326.7" y="315.2" width="1" height="1" fill="#f6b860" fill-opacity="0.65"/><rect x="206.0" y="314.8" width="1" height="1" fill="#f3c27a" fill-opacity="0.59"/><rect x="173.6" y="310.2" width="1" height="1" fill="#e8782a" fill-opacity="0.85"/><rect x="197.3" y="317.7" width="1" height="1" fill="#f6b860" fill-opacity="0.91"/><rect x="144.0" y="316.5" width="1" height="1" fill="#e8642a" fill-opacity="0.54"/><rect x="265.6" y="318.1" width="1" height="1" fill="#e8782a" fill-opacity="0.66"/><rect x="199.5" y="310.1" width="1" height="1" fill="#f6b860" fill-opacity="0.65"/><rect x="258.1" y="317.2" width="1" height="1" fill="#e8782a" fill-opacity="0.70"/><rect x="173.2" y="314.5" width="1" height="1" fill="#ef8a2a" fill-opacity="0.87"/><rect x="361.6" y="311.0" width="1" height="1" fill="#e8642a" fill-opacity="0.79"/><rect x="264.2" y="310.3" width="1" height="1" fill="#e8782a" fill-opacity="0.94"/><rect x="305.4" y="316.2" width="1" height="1" fill="#f4a03a" fill-opacity="0.75"/><rect x="280.1" y="314.2" width="1" height="1" fill="#f9d49a" fill-opacity="0.69"/><rect x="246.7" y="314.8" width="1" height="1" fill="#f3c27a" fill-opacity="0.82"/><rect x="359.6" y="316.2" width="1" height="1" fill="#f3c27a" fill-opacity="0.84"/><rect x="446.8" y="310.5" width="1" height="1" fill="#f9d49a" fill-opacity="0.50"/><rect x="121.9" y="315.3" width="1" height="1" fill="#f6b860" fill-opacity="0.78"/><rect x="292.7" y="314.1" width="1" height="1" fill="#e8642a" fill-opacity="0.75"/><rect x="289.6" y="310.0" width="1" height="1" fill="#f9d49a" fill-opacity="0.90"/><rect x="438.8" y="309.6" width="1" height="1" fill="#e8782a" fill-opacity="0.63"/><rect x="161.0" y="317.5" width="1" height="1" fill="#f9d49a" fill-opacity="0.83"/><rect x="186.2" y="315.2" width="1" height="1" fill="#f3c27a" fill-opacity="0.58"/><rect x="471.6" y="313.7" width="1" height="1" fill="#f4a03a" fill-opacity="0.54"/><rect x="360.1" y="313.9" width="1" height="1" fill="#e8782a" fill-opacity="0.55"/><rect x="164.9" y="310.6" width="1" height="1" fill="#e8782a" fill-opacity="0.84"/><rect x="360.5" y="318.8" width="1" height="1" fill="#e8782a" fill-opacity="0.84"/><rect x="447.0" y="313.2" width="1" height="1" fill="#e8642a" fill-opacity="0.93"/><rect x="115.8" y="313.0" width="1" height="1" fill="#e8782a" fill-opacity="0.85"/><rect x="207.0" y="313.2" width="1" height="1" fill="#e8642a" fill-opacity="0.88"/><rect x="140.3" y="311.0" width="1" height="1" fill="#e8782a" fill-opacity="0.55"/><rect x="143.2" y="314.9" width="1" height="1" fill="#f6b860" fill-opacity="0.61"/><rect x="204.8" y="315.0" width="1" height="1" fill="#f9d49a" fill-opacity="0.83"/><rect x="447.8" y="316.1" width="1" height="1" fill="#e8782a" fill-opacity="0.75"/><rect x="200.8" y="312.3" width="1" height="1" fill="#e8642a" fill-opacity="0.54"/><rect x="434.8" y="309.9" width="1" height="1" fill="#e8642a" fill-opacity="0.74"/><rect x="359.3" y="318.3" width="1" height="1" fill="#e8782a" fill-opacity="0.89"/><rect x="144.1" y="314.0" width="1" height="1" fill="#f6b860" fill-opacity="0.58"/><rect x="126.0" y="312.5" width="1" height="1" fill="#f4a03a" fill-opacity="0.72"/><rect x="449.5" y="311.4" width="1" height="1" fill="#f9d49a" fill-opacity="0.78"/><rect x="174.4" y="311.9" width="1" height="1" fill="#f9d49a" fill-opacity="0.65"/><rect x="205.5" y="313.1" width="1" height="1" fill="#f6b860" fill-opacity="0.59"/><rect x="118.3" y="314.7" width="1" height="1" fill="#f6b860" fill-opacity="0.59"/><rect x="143.0" y="319.6" width="1" height="1" fill="#ef8a2a" fill-opacity="0.77"/><rect x="172.7" y="310.7" width="1" height="1" fill="#f9d49a" fill-opacity="0.75"/><rect x="243.0" y="310.4" width="1" height="1" fill="#f4a03a" fill-opacity="0.84"/><rect x="446.1" y="314.4" width="1" height="1" fill="#e8782a" fill-opacity="0.87"/><rect x="263.8" y="318.2" width="1" height="1" fill="#ef8a2a" fill-opacity="0.72"/><rect x="446.8" y="311.6" width="1" height="1" fill="#e8642a" fill-opacity="0.93"/><rect x="141.1" y="316.9" width="1" height="1" fill="#e8642a" fill-opacity="0.52"/><rect x="266.9" y="319.2" width="1" height="1" fill="#f6b860" fill-opacity="0.92"/><rect x="203.4" y="319.1" width="1" height="1" fill="#f6b860" fill-opacity="0.92"/><rect x="143.3" y="311.8" width="1" height="1" fill="#f9d49a" fill-opacity="0.59"/><rect x="449.2" y="316.2" width="1" height="1" fill="#e8642a" fill-opacity="0.76"/><rect x="201.7" y="314.1" width="1" height="1" fill="#e8642a" fill-opacity="0.53"/><rect x="149.1" y="319.5" width="1" height="1" fill="#f9d49a" fill-opacity="0.88"/><rect x="258.9" y="311.0" width="1" height="1" fill="#f9d49a" fill-opacity="0.72"/><rect x="267.6" y="313.8" width="1" height="1" fill="#ef8a2a" fill-opacity="0.73"/><rect x="212.5" y="310.5" width="1" height="1" fill="#f4a03a" fill-opacity="0.71"/><rect x="319.0" y="318.9" width="1" height="1" fill="#f3c27a" fill-opacity="0.74"/><rect x="265.6" y="313.0" width="1" height="1" fill="#e8782a" fill-opacity="0.60"/><rect x="174.2" y="310.0" width="1" height="1" fill="#f6b860" fill-opacity="0.72"/><rect x="365.6" y="317.2" width="1" height="1" fill="#f9d49a" fill-opacity="0.68"/><rect x="342.0" y="311.1" width="1" height="1" fill="#e8642a" fill-opacity="0.77"/><rect x="172.2" y="313.2" width="1" height="1" fill="#f9d49a" fill-opacity="0.59"/><rect x="448.5" y="310.7" width="1" height="1" fill="#e8642a" fill-opacity="0.84"/><rect x="266.1" y="317.7" width="1" height="1" fill="#f3c27a" fill-opacity="0.76"/><rect x="358.7" y="315.7" width="1" height="1" fill="#f6b860" fill-opacity="0.76"/><rect x="142.0" y="310.9" width="1" height="1" fill="#f6b860" fill-opacity="0.78"/><rect x="177.4" y="313.7" width="1" height="1" fill="#f6b860" fill-opacity="0.62"/><rect x="279.5" y="310.5" width="1" height="1" fill="#f4a03a" fill-opacity="0.65"/><rect x="204.3" y="313.4" width="1" height="1" fill="#ef8a2a" fill-opacity="0.75"/><rect x="144.0" y="319.4" width="1" height="1" fill="#e8782a" fill-opacity="0.89"/><rect x="443.1" y="319.0" width="1" height="1" fill="#ef8a2a" fill-opacity="0.88"/><rect x="183.2" y="319.0" width="1" height="1" fill="#f6b860" fill-opacity="0.67"/><rect x="439.2" y="318.0" width="1" height="1" fill="#f9d49a" fill-opacity="0.89"/><rect x="280.8" y="317.8" width="1" height="1" fill="#ef8a2a" fill-opacity="0.94"/><rect x="176.6" y="310.3" width="1" height="1" fill="#f9d49a" fill-opacity="0.70"/><rect x="443.9" y="316.0" width="1" height="1" fill="#f4a03a" fill-opacity="0.81"/><rect x="201.6" y="312.2" width="1" height="1" fill="#e8642a" fill-opacity="0.83"/><rect x="177.7" y="318.9" width="1" height="1" fill="#f4a03a" fill-opacity="0.70"/><rect x="177.4" y="317.1" width="1" height="1" fill="#e8782a" fill-opacity="0.94"/><rect x="134.8" y="318.7" width="1" height="1" fill="#f4a03a" fill-opacity="0.55"/><rect x="280.3" y="311.4" width="1" height="1" fill="#f3c27a" fill-opacity="0.65"/><rect x="143.1" y="318.6" width="1" height="1" fill="#f3c27a" fill-opacity="0.78"/><rect x="299.1" y="312.2" width="1" height="1" fill="#f3c27a" fill-opacity="0.81"/><rect x="360.6" y="311.2" width="1" height="1" fill="#e8782a" fill-opacity="0.82"/><rect x="280.4" y="311.0" width="1" height="1" fill="#ef8a2a" fill-opacity="0.83"/><rect x="448.5" y="317.5" width="1" height="1" fill="#f6b860" fill-opacity="0.88"/><rect x="167.5" y="313.4" width="1" height="1" fill="#f4a03a" fill-opacity="0.69"/><rect x="202.5" y="319.8" width="1" height="1" fill="#f3c27a" fill-opacity="0.65"/><rect x="182.3" y="319.1" width="1" height="1" fill="#e8642a" fill-opacity="0.87"/><rect x="279.4" y="311.8" width="1" height="1" fill="#ef8a2a" fill-opacity="0.79"/><rect x="392.0" y="312.4" width="1" height="1" fill="#e8642a" fill-opacity="0.82"/><rect x="144.1" y="310.7" width="1" height="1" fill="#e8782a" fill-opacity="0.75"/><rect x="178.4" y="319.9" width="1" height="1" fill="#f9d49a" fill-opacity="0.63"/><rect x="441.5" y="317.3" width="1" height="1" fill="#f3c27a" fill-opacity="0.79"/><rect x="143.1" y="309.8" width="1" height="1" fill="#f3c27a" fill-opacity="0.62"/><rect x="446.0" y="311.6" width="1" height="1" fill="#f6b860" fill-opacity="0.94"/><rect x="235.6" y="310.1" width="1" height="1" fill="#e8782a" fill-opacity="0.62"/><rect x="153.8" y="316.4" width="1" height="1" fill="#e8782a" fill-opacity="0.85"/><rect x="357.9" y="310.6" width="1" height="1" fill="#ef8a2a" fill-opacity="0.93"/><rect x="332.0" y="317.0" width="1" height="1" fill="#e8782a" fill-opacity="0.63"/><rect x="143.7" y="310.5" width="1" height="1" fill="#f6b860" fill-opacity="0.66"/><rect x="205.7" y="313.1" width="1" height="1" fill="#e8782a" fill-opacity="0.61"/><rect x="361.3" y="312.7" width="1" height="1" fill="#f3c27a" fill-opacity="0.89"/><rect x="173.6" y="309.9" width="1" height="1" fill="#e8782a" fill-opacity="0.73"/><rect x="266.8" y="315.6" width="1" height="1" fill="#ef8a2a" fill-opacity="0.52"/><rect x="117.7" y="312.9" width="1" height="1" fill="#ef8a2a" fill-opacity="0.51"/><rect x="173.6" y="310.9" width="1" height="1" fill="#e8782a" fill-opacity="0.87"/><rect x="463.4" y="314.9" width="1" height="1" fill="#ef8a2a" fill-opacity="0.86"/><rect x="173.0" y="311.4" width="1" height="1" fill="#f6b860" fill-opacity="0.57"/><rect x="173.7" y="312.8" width="1" height="1" fill="#ef8a2a" fill-opacity="0.75"/><rect x="201.9" y="315.1" width="1" height="1" fill="#f3c27a" fill-opacity="0.92"/><rect x="447.1" y="317.6" width="1" height="1" fill="#f3c27a" fill-opacity="0.75"/><rect x="427.7" y="315.5" width="1" height="1" fill="#f3c27a" fill-opacity="0.54"/><rect x="228.5" y="313.8" width="1" height="1" fill="#f3c27a" fill-opacity="0.54"/><rect x="449.5" y="317.9" width="1" height="1" fill="#f9d49a" fill-opacity="0.93"/><rect x="144.8" y="316.8" width="1" height="1" fill="#e8782a" fill-opacity="0.66"/><rect x="448.2" y="314.4" width="1" height="1" fill="#e8642a" fill-opacity="0.87"/><rect x="201.7" y="317.0" width="1" height="1" fill="#f4a03a" fill-opacity="0.84"/><rect x="239.9" y="316.8" width="1" height="1" fill="#f6b860" fill-opacity="0.81"/><rect x="264.3" y="312.4" width="1" height="1" fill="#f4a03a" fill-opacity="0.86"/><rect x="143.1" y="316.8" width="1" height="1" fill="#e8642a" fill-opacity="0.93"/><rect x="442.6" y="319.1" width="1" height="1" fill="#ef8a2a" fill-opacity="0.68"/><rect x="143.0" y="311.0" width="1" height="1" fill="#ef8a2a" fill-opacity="0.55"/><rect x="358.1" y="318.2" width="1" height="1" fill="#f4a03a" fill-opacity="0.92"/><rect x="144.1" y="317.1" width="1" height="1" fill="#f9d49a" fill-opacity="0.85"/><rect x="266.0" y="318.5" width="1" height="1" fill="#f9d49a" fill-opacity="0.91"/><rect x="256.3" y="314.6" width="1" height="1" fill="#e8782a" fill-opacity="0.50"/><rect x="195.7" y="312.9" width="1" height="1" fill="#f3c27a" fill-opacity="0.83"/><rect x="441.1" y="310.0" width="1" height="1" fill="#f6b860" fill-opacity="0.90"/><rect x="275.5" y="315.5" width="1" height="1" fill="#f9d49a" fill-opacity="0.80"/><rect x="362.6" y="317.0" width="1" height="1" fill="#f6b860" fill-opacity="0.75"/><rect x="143.6" y="313.1" width="1" height="1" fill="#e8642a" fill-opacity="0.87"/><rect x="281.9" y="310.1" width="1" height="1" fill="#f4a03a" fill-opacity="0.71"/><rect x="203.4" y="312.9" width="1" height="1" fill="#e8782a" fill-opacity="0.79"/><rect x="273.3" y="315.2" width="1" height="1" fill="#f9d49a" fill-opacity="0.75"/><rect x="180.4" y="314.7" width="1" height="1" fill="#f9d49a" fill-opacity="0.93"/><rect x="412.5" y="310.4" width="1" height="1" fill="#f4a03a" fill-opacity="0.73"/><rect x="308.9" y="319.2" width="1" height="1" fill="#e8642a" fill-opacity="0.88"/><rect x="191.9" y="311.9" width="1" height="1" fill="#f4a03a" fill-opacity="0.68"/><rect x="143.2" y="315.1" width="1" height="1" fill="#e8782a" fill-opacity="0.91"/><rect x="253.2" y="317.2" width="1" height="1" fill="#f9d49a" fill-opacity="0.83"/><rect x="371.7" y="314.5" width="1" height="1" fill="#f6b860" fill-opacity="0.89"/><rect x="141.7" y="311.5" width="1" height="1" fill="#f9d49a" fill-opacity="0.73"/><rect x="360.2" y="318.1" width="1" height="1" fill="#f6b860" fill-opacity="0.89"/><rect x="199.7" y="310.8" width="1" height="1" fill="#f4a03a" fill-opacity="0.76"/><rect x="252.4" y="317.4" width="1" height="1" fill="#f9d49a" fill-opacity="0.90"/><rect x="356.1" y="313.0" width="1" height="1" fill="#e8782a" fill-opacity="0.56"/><rect x="119.4" y="318.4" width="1" height="1" fill="#f9d49a" fill-opacity="0.53"/><rect x="359.4" y="314.8" width="1" height="1" fill="#f4a03a" fill-opacity="0.67"/><rect x="306.2" y="319.6" width="1" height="1" fill="#e8782a" fill-opacity="0.74"/><rect x="266.3" y="312.3" width="1" height="1" fill="#f3c27a" fill-opacity="0.79"/><rect x="268.4" y="318.7" width="1" height="1" fill="#e8782a" fill-opacity="0.91"/><rect x="237.4" y="309.9" width="1" height="1" fill="#e8782a" fill-opacity="0.61"/><rect x="278.7" y="310.2" width="1" height="1" fill="#f3c27a" fill-opacity="0.82"/><rect x="145.7" y="319.2" width="1" height="1" fill="#f4a03a" fill-opacity="0.74"/><rect x="143.8" y="320.0" width="1" height="1" fill="#f9d49a" fill-opacity="0.88"/><rect x="178.9" y="319.7" width="1" height="1" fill="#e8642a" fill-opacity="0.74"/><rect x="264.2" y="314.5" width="1" height="1" fill="#f9d49a" fill-opacity="0.88"/><rect x="267.5" y="315.6" width="1" height="1" fill="#f9d49a" fill-opacity="0.59"/><rect x="120.0" y="315.2" width="1" height="1" fill="#f3c27a" fill-opacity="0.53"/><rect x="412.8" y="313.2" width="1" height="1" fill="#f6b860" fill-opacity="0.69"/><rect x="204.2" y="318.2" width="1" height="1" fill="#f3c27a" fill-opacity="0.56"/><rect x="443.4" y="315.8" width="1" height="1" fill="#e8642a" fill-opacity="0.90"/><rect x="143.8" y="318.4" width="1" height="1" fill="#e8782a" fill-opacity="0.51"/><rect x="178.5" y="312.1" width="1" height="1" fill="#f4a03a" fill-opacity="0.94"/><rect x="142.9" y="312.0" width="1" height="1" fill="#f4a03a" fill-opacity="0.70"/><rect x="229.4" y="312.9" width="1" height="1" fill="#f6b860" fill-opacity="0.92"/><rect x="282.9" y="311.2" width="1" height="1" fill="#f6b860" fill-opacity="0.86"/><rect x="142.8" y="316.7" width="1" height="1" fill="#f4a03a" fill-opacity="0.70"/><rect x="149.4" y="317.4" width="1" height="1" fill="#e8642a" fill-opacity="0.86"/><rect x="141.6" y="316.6" width="1" height="1" fill="#f6b860" fill-opacity="0.71"/><rect x="361.5" y="314.8" width="1" height="1" fill="#f6b860" fill-opacity="0.63"/><rect x="282.0" y="319.9" width="1" height="1" fill="#f3c27a" fill-opacity="0.57"/><rect x="278.5" y="312.2" width="1" height="1" fill="#e8642a" fill-opacity="0.87"/><rect x="294.8" y="314.7" width="1" height="1" fill="#f3c27a" fill-opacity="0.79"/><rect x="185.2" y="313.2" width="1" height="1" fill="#e8782a" fill-opacity="0.53"/><rect x="204.4" y="311.5" width="1" height="1" fill="#f6b860" fill-opacity="0.78"/><rect x="355.4" y="309.6" width="1" height="1" fill="#f4a03a" fill-opacity="0.76"/><rect x="180.1" y="316.2" width="1" height="1" fill="#ef8a2a" fill-opacity="0.84"/><rect x="200.3" y="319.6" width="1" height="1" fill="#e8782a" fill-opacity="0.79"/><rect x="447.6" y="309.6" width="1" height="1" fill="#ef8a2a" fill-opacity="0.93"/><rect x="419.6" y="310.2" width="1" height="1" fill="#e8642a" fill-opacity="0.63"/><rect x="406.2" y="310.7" width="1" height="1" fill="#f9d49a" fill-opacity="0.93"/><rect x="416.0" y="317.4" width="1" height="1" fill="#e8782a" fill-opacity="0.95"/><rect x="446.0" y="317.3" width="1" height="1" fill="#e8642a" fill-opacity="0.70"/><rect x="176.3" y="318.2" width="1" height="1" fill="#e8642a" fill-opacity="0.82"/><rect x="279.7" y="315.1" width="1" height="1" fill="#f4a03a" fill-opacity="0.63"/><rect x="117.6" y="317.6" width="1" height="1" fill="#f4a03a" fill-opacity="0.91"/><rect x="112.5" y="313.9" width="1" height="1" fill="#f4a03a" fill-opacity="0.86"/><rect x="450.7" y="317.8" width="1" height="1" fill="#f9d49a" fill-opacity="0.90"/><rect x="205.6" y="318.2" width="1" height="1" fill="#f3c27a" fill-opacity="0.93"/><rect x="179.9" y="310.9" width="1" height="1" fill="#e8782a" fill-opacity="0.77"/><rect x="300.5" y="316.8" width="1" height="1" fill="#f9d49a" fill-opacity="0.76"/><rect x="266.0" y="319.6" width="1" height="1" fill="#f4a03a" fill-opacity="0.58"/><rect x="171.1" y="313.0" width="1" height="1" fill="#e8782a" fill-opacity="0.68"/><rect x="237.2" y="316.5" width="1" height="1" fill="#f3c27a" fill-opacity="0.95"/><rect x="359.7" y="311.7" width="1" height="1" fill="#f6b860" fill-opacity="0.59"/><rect x="447.9" y="318.8" width="1" height="1" fill="#e8782a" fill-opacity="0.52"/><rect x="202.3" y="315.5" width="1" height="1" fill="#f4a03a" fill-opacity="0.54"/><rect x="264.9" y="310.9" width="1" height="1" fill="#f4a03a" fill-opacity="0.89"/><rect x="359.1" y="317.1" width="1" height="1" fill="#f9d49a" fill-opacity="0.90"/><rect x="279.4" y="315.5" width="1" height="1" fill="#f6b860" fill-opacity="0.61"/><rect x="361.0" y="319.3" width="1" height="1" fill="#ef8a2a" fill-opacity="0.70"/><rect x="281.2" y="318.5" width="1" height="1" fill="#ef8a2a" fill-opacity="0.74"/><rect x="446.4" y="319.0" width="1" height="1" fill="#e8642a" fill-opacity="0.79"/><rect x="439.8" y="317.2" width="1" height="1" fill="#f3c27a" fill-opacity="0.86"/><rect x="142.9" y="319.9" width="1" height="1" fill="#e8642a" fill-opacity="0.80"/><rect x="143.9" y="315.2" width="1" height="1" fill="#e8782a" fill-opacity="0.67"/><rect x="144.2" y="318.1" width="1" height="1" fill="#e8642a" fill-opacity="0.61"/><rect x="203.4" y="311.1" width="1" height="1" fill="#f3c27a" fill-opacity="0.88"/><rect x="290.9" y="309.6" width="1" height="1" fill="#ef8a2a" fill-opacity="0.54"/><rect x="361.0" y="311.7" width="1" height="1" fill="#f9d49a" fill-opacity="0.72"/><rect x="261.8" y="309.7" width="1" height="1" fill="#ef8a2a" fill-opacity="0.78"/><rect x="340.4" y="316.1" width="1" height="1" fill="#f6b860" fill-opacity="0.74"/><rect x="182.4" y="315.6" width="1" height="1" fill="#f9d49a" fill-opacity="0.91"/><rect x="442.7" y="310.8" width="1" height="1" fill="#f6b860" fill-opacity="0.66"/><rect x="450.8" y="319.8" width="1" height="1" fill="#e8782a" fill-opacity="0.92"/><rect x="279.4" y="310.8" width="1" height="1" fill="#f6b860" fill-opacity="0.61"/><rect x="142.1" y="311.3" width="1" height="1" fill="#f9d49a" fill-opacity="0.63"/><rect x="343.6" y="315.1" width="1" height="1" fill="#f9d49a" fill-opacity="0.81"/><rect x="291.2" y="319.5" width="1" height="1" fill="#ef8a2a" fill-opacity="0.61"/><rect x="144.2" y="314.5" width="1" height="1" fill="#e8642a" fill-opacity="0.90"/><rect x="143.0" y="311.9" width="1" height="1" fill="#f3c27a" fill-opacity="0.92"/><rect x="361.2" y="315.9" width="1" height="1" fill="#f4a03a" fill-opacity="0.55"/><rect x="448.7" y="315.7" width="1" height="1" fill="#f3c27a" fill-opacity="0.93"/><rect x="358.7" y="315.2" width="1" height="1" fill="#f9d49a" fill-opacity="0.81"/><rect x="360.6" y="315.2" width="1" height="1" fill="#e8642a" fill-opacity="0.86"/><rect x="127.4" y="312.7" width="1" height="1" fill="#ef8a2a" fill-opacity="0.60"/><rect x="207.2" y="314.5" width="1" height="1" fill="#e8642a" fill-opacity="0.82"/><rect x="202.7" y="313.9" width="1" height="1" fill="#e8782a" fill-opacity="0.83"/><rect x="475.6" y="317.9" width="1" height="1" fill="#e8782a" fill-opacity="0.82"/><rect x="365.1" y="310.0" width="1" height="1" fill="#f6b860" fill-opacity="0.66"/><rect x="207.3" y="312.7" width="1" height="1" fill="#f6b860" fill-opacity="0.72"/><rect x="176.1" y="314.2" width="1" height="1" fill="#e8782a" fill-opacity="0.72"/><rect x="199.5" y="309.8" width="1" height="1" fill="#f3c27a" fill-opacity="0.54"/><rect x="174.4" y="313.3" width="1" height="1" fill="#e8782a" fill-opacity="0.64"/><rect x="280.0" y="311.0" width="1" height="1" fill="#ef8a2a" fill-opacity="0.91"/><rect x="199.9" y="313.6" width="1" height="1" fill="#f3c27a" fill-opacity="0.70"/><rect x="142.4" y="318.2" width="1" height="1" fill="#e8782a" fill-opacity="0.81"/><rect x="163.2" y="320.0" width="1" height="1" fill="#f3c27a" fill-opacity="0.53"/><rect x="247.4" y="316.3" width="1" height="1" fill="#e8782a" fill-opacity="0.67"/><rect x="177.1" y="312.5" width="1" height="1" fill="#ef8a2a" fill-opacity="0.60"/><rect x="205.9" y="319.5" width="1" height="1" fill="#f6b860" fill-opacity="0.86"/><rect x="201.9" y="314.9" width="1" height="1" fill="#e8642a" fill-opacity="0.82"/><rect x="153.8" y="318.9" width="1" height="1" fill="#e8782a" fill-opacity="0.72"/><rect x="144.7" y="312.3" width="1" height="1" fill="#ef8a2a" fill-opacity="0.91"/><rect x="446.9" y="311.3" width="1" height="1" fill="#f9d49a" fill-opacity="0.59"/><rect x="280.9" y="314.5" width="1" height="1" fill="#f4a03a" fill-opacity="0.68"/><rect x="376.2" y="312.0" width="1" height="1" fill="#f9d49a" fill-opacity="0.77"/><rect x="459.1" y="315.8" width="1" height="1" fill="#f4a03a" fill-opacity="0.61"/><rect x="443.9" y="316.3" width="1" height="1" fill="#f3c27a" fill-opacity="0.73"/><rect x="207.2" y="311.0" width="1" height="1" fill="#f4a03a" fill-opacity="0.56"/><rect x="307.2" y="312.8" width="1" height="1" fill="#f9d49a" fill-opacity="0.92"/><rect x="200.5" y="313.6" width="1" height="1" fill="#f6b860" fill-opacity="0.57"/><rect x="429.8" y="310.8" width="1" height="1" fill="#ef8a2a" fill-opacity="0.73"/><rect x="435.4" y="314.3" width="1" height="1" fill="#f4a03a" fill-opacity="0.64"/><rect x="203.5" y="317.8" width="1" height="1" fill="#ef8a2a" fill-opacity="0.57"/><rect x="258.1" y="317.6" width="1" height="1" fill="#f6b860" fill-opacity="0.54"/><rect x="265.6" y="319.2" width="1" height="1" fill="#ef8a2a" fill-opacity="0.83"/><rect x="179.0" y="310.4" width="1" height="1" fill="#f6b860" fill-opacity="0.93"/><rect x="143.7" y="317.1" width="1" height="1" fill="#f4a03a" fill-opacity="0.87"/><rect x="266.9" y="314.2" width="1" height="1" fill="#e8782a" fill-opacity="0.54"/><rect x="144.5" y="310.9" width="1" height="1" fill="#f4a03a" fill-opacity="0.65"/><rect x="277.8" y="319.7" width="1" height="1" fill="#f9d49a" fill-opacity="0.66"/><rect x="404.0" y="318.2" width="1" height="1" fill="#ef8a2a" fill-opacity="0.77"/><rect x="175.9" y="316.8" width="1" height="1" fill="#f4a03a" fill-opacity="0.77"/><rect x="424.1" y="309.7" width="1" height="1" fill="#f4a03a" fill-opacity="0.53"/><rect x="279.8" y="310.8" width="1" height="1" fill="#f9d49a" fill-opacity="0.65"/><rect x="282.6" y="318.2" width="1" height="1" fill="#ef8a2a" fill-opacity="0.77"/><rect x="392.4" y="315.0" width="1" height="1" fill="#f4a03a" fill-opacity="0.55"/><rect x="144.0" y="312.2" width="1" height="1" fill="#f9d49a" fill-opacity="0.67"/><rect x="206.3" y="319.6" width="1" height="1" fill="#f3c27a" fill-opacity="0.91"/><rect x="206.8" y="314.1" width="1" height="1" fill="#f3c27a" fill-opacity="0.67"/><rect x="265.3" y="310.1" width="1" height="1" fill="#f9d49a" fill-opacity="0.64"/><rect x="358.8" y="311.2" width="1" height="1" fill="#f9d49a" fill-opacity="0.73"/><rect x="277.4" y="319.1" width="1" height="1" fill="#f4a03a" fill-opacity="0.63"/><rect x="265.5" y="309.9" width="1" height="1" fill="#f9d49a" fill-opacity="0.60"/><rect x="293.3" y="313.3" width="1" height="1" fill="#e8782a" fill-opacity="0.56"/><rect x="360.7" y="310.3" width="1" height="1" fill="#e8642a" fill-opacity="0.78"/><rect x="447.4" y="316.7" width="1" height="1" fill="#e8782a" fill-opacity="0.78"/><rect x="182.7" y="317.8" width="1" height="1" fill="#e8642a" fill-opacity="0.71"/><rect x="153.7" y="315.0" width="1" height="1" fill="#f9d49a" fill-opacity="0.51"/><rect x="320.1" y="319.2" width="1" height="1" fill="#f3c27a" fill-opacity="0.82"/><rect x="144.5" y="315.0" width="1" height="1" fill="#e8782a" fill-opacity="0.51"/><rect x="205.1" y="319.6" width="1" height="1" fill="#f4a03a" fill-opacity="0.78"/><rect x="206.7" y="313.3" width="1" height="1" fill="#ef8a2a" fill-opacity="0.84"/><rect x="142.6" y="310.7" width="1" height="1" fill="#f3c27a" fill-opacity="0.73"/><rect x="206.9" y="315.0" width="1" height="1" fill="#f4a03a" fill-opacity="0.77"/><rect x="143.3" y="317.7" width="1" height="1" fill="#ef8a2a" fill-opacity="0.82"/><rect x="426.8" y="316.3" width="1" height="1" fill="#f9d49a" fill-opacity="0.94"/><rect x="441.1" y="313.9" width="1" height="1" fill="#e8642a" fill-opacity="0.56"/><rect x="368.2" y="309.7" width="1" height="1" fill="#f4a03a" fill-opacity="0.92"/><rect x="394.3" y="314.2" width="1" height="1" fill="#f4a03a" fill-opacity="0.77"/><rect x="441.2" y="314.4" width="1" height="1" fill="#f4a03a" fill-opacity="0.90"/><rect x="189.9" y="311.1" width="1" height="1" fill="#f4a03a" fill-opacity="0.53"/><rect x="309.2" y="319.3" width="1" height="1" fill="#f6b860" fill-opacity="0.94"/><rect x="448.4" y="311.4" width="1" height="1" fill="#f9d49a" fill-opacity="0.74"/><rect x="290.8" y="313.0" width="1" height="1" fill="#e8642a" fill-opacity="0.63"/><rect x="279.8" y="317.0" width="1" height="1" fill="#ef8a2a" fill-opacity="0.57"/><rect x="201.3" y="316.4" width="1" height="1" fill="#f4a03a" fill-opacity="0.84"/><rect x="143.3" y="312.8" width="1" height="1" fill="#f4a03a" fill-opacity="0.54"/><rect x="443.8" y="312.9" width="1" height="1" fill="#e8642a" fill-opacity="0.93"/><rect x="440.8" y="311.5" width="1" height="1" fill="#e8642a" fill-opacity="0.71"/><rect x="217.8" y="310.8" width="1" height="1" fill="#f9d49a" fill-opacity="0.73"/><rect x="290.8" y="313.6" width="1" height="1" fill="#f3c27a" fill-opacity="0.80"/><rect x="250.7" y="312.3" width="1" height="1" fill="#f3c27a" fill-opacity="0.91"/><rect x="168.7" y="318.5" width="1" height="1" fill="#e8782a" fill-opacity="0.70"/><rect x="172.6" y="315.9" width="1" height="1" fill="#e8642a" fill-opacity="0.79"/><rect x="445.7" y="318.3" width="1" height="1" fill="#e8782a" fill-opacity="0.51"/><rect x="264.9" y="310.4" width="1" height="1" fill="#f3c27a" fill-opacity="0.81"/><rect x="264.1" y="310.2" width="1" height="1" fill="#f4a03a" fill-opacity="0.81"/><rect x="205.9" y="316.6" width="1" height="1" fill="#f9d49a" fill-opacity="0.60"/><rect x="235.5" y="319.3" width="1" height="1" fill="#e8642a" fill-opacity="0.94"/><rect x="265.7" y="312.6" width="1" height="1" fill="#f3c27a" fill-opacity="0.73"/><rect x="389.3" y="313.4" width="1" height="1" fill="#e8782a" fill-opacity="0.88"/><rect x="373.8" y="315.9" width="1" height="1" fill="#ef8a2a" fill-opacity="0.53"/><rect x="346.8" y="313.6" width="1" height="1" fill="#f6b860" fill-opacity="0.64"/><rect x="442.2" y="318.6" width="1" height="1" fill="#f3c27a" fill-opacity="0.65"/><rect x="439.6" y="315.6" width="1" height="1" fill="#f6b860" fill-opacity="0.53"/><rect x="243.8" y="314.5" width="1" height="1" fill="#f4a03a" fill-opacity="0.59"/><rect x="133.5" y="315.4" width="1" height="1" fill="#e8642a" fill-opacity="0.73"/><rect x="447.1" y="319.7" width="1" height="1" fill="#f9d49a" fill-opacity="0.92"/><rect x="199.7" y="318.2" width="1" height="1" fill="#f9d49a" fill-opacity="0.94"/><rect x="314.6" y="318.6" width="1" height="1" fill="#f4a03a" fill-opacity="0.65"/><rect x="396.2" y="312.6" width="1" height="1" fill="#f3c27a" fill-opacity="0.53"/><rect x="198.4" y="317.2" width="1" height="1" fill="#f3c27a" fill-opacity="0.93"/><rect x="203.2" y="311.8" width="1" height="1" fill="#f6b860" fill-opacity="0.75"/><rect x="312.8" y="316.4" width="1" height="1" fill="#e8642a" fill-opacity="0.72"/><rect x="174.4" y="315.1" width="1" height="1" fill="#f4a03a" fill-opacity="0.86"/><rect x="141.1" y="318.5" width="1" height="1" fill="#e8642a" fill-opacity="0.52"/><rect x="164.3" y="312.3" width="1" height="1" fill="#f6b860" fill-opacity="0.55"/><rect x="361.3" y="314.0" width="1" height="1" fill="#f6b860" fill-opacity="0.86"/><rect x="133.3" y="314.9" width="1" height="1" fill="#e8642a" fill-opacity="0.56"/><rect x="200.4" y="313.2" width="1" height="1" fill="#f9d49a" fill-opacity="0.66"/><rect x="220.5" y="314.1" width="1" height="1" fill="#e8782a" fill-opacity="0.74"/><rect x="448.9" y="316.6" width="1" height="1" fill="#f6b860" fill-opacity="0.79"/><rect x="176.9" y="317.1" width="1" height="1" fill="#e8642a" fill-opacity="0.94"/><rect x="182.4" y="310.8" width="1" height="1" fill="#ef8a2a" fill-opacity="0.66"/><rect x="434.5" y="317.4" width="1" height="1" fill="#ef8a2a" fill-opacity="0.91"/><rect x="179.2" y="316.9" width="1" height="1" fill="#e8642a" fill-opacity="0.76"/><rect x="440.3" y="310.4" width="1" height="1" fill="#f6b860" fill-opacity="0.69"/><rect x="350.7" y="314.2" width="1" height="1" fill="#f4a03a" fill-opacity="0.88"/><rect x="446.5" y="310.5" width="1" height="1" fill="#f9d49a" fill-opacity="0.53"/><rect x="224.5" y="319.9" width="1" height="1" fill="#e8782a" fill-opacity="0.51"/><rect x="134.5" y="318.8" width="1" height="1" fill="#ef8a2a" fill-opacity="0.93"/><rect x="430.1" y="319.4" width="1" height="1" fill="#f9d49a" fill-opacity="0.69"/><rect x="181.1" y="313.5" width="1" height="1" fill="#e8782a" fill-opacity="0.78"/><rect x="270.3" y="314.0" width="1" height="1" fill="#ef8a2a" fill-opacity="0.80"/><rect x="179.8" y="310.9" width="1" height="1" fill="#f9d49a" fill-opacity="0.69"/><rect x="441.1" y="312.5" width="1" height="1" fill="#f9d49a" fill-opacity="0.53"/><rect x="167.9" y="317.6" width="1" height="1" fill="#f4a03a" fill-opacity="0.54"/><rect x="267.1" y="317.5" width="1" height="1" fill="#e8642a" fill-opacity="0.59"/><rect x="182.1" y="311.9" width="1" height="1" fill="#ef8a2a" fill-opacity="0.51"/><rect x="360.2" y="315.2" width="1" height="1" fill="#e8782a" fill-opacity="0.55"/><rect x="203.4" y="316.8" width="1" height="1" fill="#f3c27a" fill-opacity="0.52"/><rect x="322.6" y="313.2" width="1" height="1" fill="#e8782a" fill-opacity="0.92"/><rect x="351.1" y="317.5" width="1" height="1" fill="#f3c27a" fill-opacity="0.52"/><rect x="308.2" y="311.0" width="1" height="1" fill="#f9d49a" fill-opacity="0.57"/><rect x="143.2" y="313.6" width="1" height="1" fill="#f9d49a" fill-opacity="0.57"/><rect x="334.7" y="319.9" width="1" height="1" fill="#e8642a" fill-opacity="0.70"/><rect x="205.0" y="318.5" width="1" height="1" fill="#f4a03a" fill-opacity="0.60"/><rect x="141.2" y="310.9" width="1" height="1" fill="#f9d49a" fill-opacity="0.53"/><rect x="178.1" y="310.0" width="1" height="1" fill="#f6b860" fill-opacity="0.58"/><rect x="336.4" y="317.0" width="1" height="1" fill="#f3c27a" fill-opacity="0.63"/><rect x="256.0" y="318.9" width="1" height="1" fill="#f9d49a" fill-opacity="0.76"/><rect x="178.3" y="319.7" width="1" height="1" fill="#ef8a2a" fill-opacity="0.65"/><rect x="358.8" y="318.3" width="1" height="1" fill="#f9d49a" fill-opacity="0.76"/><rect x="217.4" y="314.1" width="1" height="1" fill="#f9d49a" fill-opacity="0.74"/><rect x="122.6" y="309.7" width="1" height="1" fill="#f6b860" fill-opacity="0.77"/><rect x="176.8" y="310.5" width="1" height="1" fill="#f3c27a" fill-opacity="0.60"/><rect x="441.8" y="317.8" width="1" height="1" fill="#f4a03a" fill-opacity="0.75"/><rect x="296.3" y="315.2" width="1" height="1" fill="#f6b860" fill-opacity="0.58"/><rect x="356.8" y="310.8" width="1" height="1" fill="#e8642a" fill-opacity="0.70"/><rect x="145.2" y="314.6" width="1" height="1" fill="#e8782a" fill-opacity="0.54"/><rect x="265.6" y="315.8" width="1" height="1" fill="#e8782a" fill-opacity="0.84"/><rect x="286.2" y="318.5" width="1" height="1" fill="#ef8a2a" fill-opacity="0.59"/><rect x="468.4" y="312.1" width="1" height="1" fill="#f6b860" fill-opacity="0.64"/><rect x="254.0" y="314.0" width="1" height="1" fill="#ef8a2a" fill-opacity="0.89"/><rect x="204.0" y="313.4" width="1" height="1" fill="#e8642a" fill-opacity="0.84"/><rect x="189.1" y="313.2" width="1" height="1" fill="#f9d49a" fill-opacity="0.75"/><rect x="186.4" y="310.3" width="1" height="1" fill="#ef8a2a" fill-opacity="0.66"/><rect x="144.0" y="311.1" width="1" height="1" fill="#e8642a" fill-opacity="0.62"/><rect x="173.6" y="320.0" width="1" height="1" fill="#f3c27a" fill-opacity="0.60"/><rect x="142.8" y="316.5" width="1" height="1" fill="#f4a03a" fill-opacity="0.79"/><rect x="264.0" y="318.9" width="1" height="1" fill="#ef8a2a" fill-opacity="0.91"/><rect x="177.8" y="311.5" width="1" height="1" fill="#e8642a" fill-opacity="0.83"/><rect x="266.1" y="313.9" width="1" height="1" fill="#e8782a" fill-opacity="0.94"/><rect x="297.5" y="318.9" width="1" height="1" fill="#f4a03a" fill-opacity="0.84"/><rect x="280.4" y="310.4" width="1" height="1" fill="#e8642a" fill-opacity="0.80"/><rect x="446.8" y="317.9" width="1" height="1" fill="#f4a03a" fill-opacity="0.64"/><rect x="470.6" y="313.4" width="1" height="1" fill="#f3c27a" fill-opacity="0.52"/><rect x="184.4" y="310.0" width="1" height="1" fill="#f9d49a" fill-opacity="0.53"/><rect x="182.7" y="313.3" width="1" height="1" fill="#f4a03a" fill-opacity="0.73"/><rect x="206.0" y="317.3" width="1" height="1" fill="#f6b860" fill-opacity="0.85"/><rect x="144.9" y="318.9" width="1" height="1" fill="#f3c27a" fill-opacity="0.80"/><rect x="181.1" y="312.9" width="1" height="1" fill="#ef8a2a" fill-opacity="0.82"/><rect x="142.5" y="315.6" width="1" height="1" fill="#f9d49a" fill-opacity="0.66"/><rect x="184.0" y="314.9" width="1" height="1" fill="#e8642a" fill-opacity="0.94"/><rect x="454.4" y="315.8" width="1" height="1" fill="#f3c27a" fill-opacity="0.62"/><rect x="447.8" y="316.2" width="1" height="1" fill="#f3c27a" fill-opacity="0.62"/><rect x="143.3" y="314.6" width="1" height="1" fill="#f6b860" fill-opacity="0.75"/><rect x="474.2" y="311.2" width="1" height="1" fill="#f3c27a" fill-opacity="0.81"/><rect x="174.3" y="313.4" width="1" height="1" fill="#f4a03a" fill-opacity="0.83"/><rect x="268.2" y="317.4" width="1" height="1" fill="#e8642a" fill-opacity="0.78"/><rect x="266.9" y="317.5" width="1" height="1" fill="#f3c27a" fill-opacity="0.91"/><rect x="137.5" y="318.1" width="1" height="1" fill="#ef8a2a" fill-opacity="0.64"/><rect x="425.0" y="318.8" width="1" height="1" fill="#f4a03a" fill-opacity="0.86"/><rect x="143.1" y="317.9" width="1" height="1" fill="#e8642a" fill-opacity="0.59"/><rect x="444.5" y="313.0" width="1" height="1" fill="#ef8a2a" fill-opacity="0.83"/><rect x="257.1" y="314.8" width="1" height="1" fill="#f3c27a" fill-opacity="0.74"/><rect x="291.9" y="311.2" width="1" height="1" fill="#e8782a" fill-opacity="0.81"/><rect x="297.2" y="315.6" width="1" height="1" fill="#e8642a" fill-opacity="0.73"/><rect x="219.1" y="314.1" width="1" height="1" fill="#e8782a" fill-opacity="0.71"/><rect x="180.4" y="314.3" width="1" height="1" fill="#ef8a2a" fill-opacity="0.51"/><rect x="402.3" y="318.6" width="1" height="1" fill="#e8782a" fill-opacity="0.73"/><rect x="262.5" y="315.3" width="1" height="1" fill="#e8642a" fill-opacity="0.50"/><rect x="360.8" y="312.4" width="1" height="1" fill="#f4a03a" fill-opacity="0.54"/><rect x="315.2" y="316.3" width="1" height="1" fill="#f9d49a" fill-opacity="0.59"/><rect x="227.1" y="315.1" width="1" height="1" fill="#f4a03a" fill-opacity="0.83"/><rect x="141.8" y="313.1" width="1" height="1" fill="#ef8a2a" fill-opacity="0.89"/><rect x="271.1" y="311.4" width="1" height="1" fill="#f4a03a" fill-opacity="0.61"/><rect x="142.5" y="315.4" width="1" height="1" fill="#f4a03a" fill-opacity="0.70"/><rect x="447.8" y="317.3" width="1" height="1" fill="#f9d49a" fill-opacity="0.64"/><rect x="142.3" y="316.0" width="1" height="1" fill="#f6b860" fill-opacity="0.73"/><rect x="217.8" y="320.0" width="1" height="1" fill="#e8642a" fill-opacity="0.69"/><rect x="361.5" y="310.8" width="1" height="1" fill="#e8642a" fill-opacity="0.95"/><rect x="295.8" y="318.4" width="1" height="1" fill="#f4a03a" fill-opacity="0.63"/><rect x="358.4" y="317.7" width="1" height="1" fill="#e8642a" fill-opacity="0.85"/><rect x="447.6" y="313.7" width="1" height="1" fill="#f6b860" fill-opacity="0.56"/><rect x="360.9" y="314.2" width="1" height="1" fill="#e8782a" fill-opacity="0.62"/><rect x="145.3" y="315.2" width="1" height="1" fill="#f4a03a" fill-opacity="0.91"/><rect x="202.5" y="315.2" width="1" height="1" fill="#e8782a" fill-opacity="0.95"/><rect x="143.8" y="318.4" width="1" height="1" fill="#ef8a2a" fill-opacity="0.73"/><rect x="182.9" y="317.5" width="1" height="1" fill="#f9d49a" fill-opacity="0.56"/><rect x="142.1" y="311.0" width="1" height="1" fill="#e8642a" fill-opacity="0.55"/><rect x="431.9" y="310.0" width="1" height="1" fill="#f9d49a" fill-opacity="0.72"/><rect x="279.3" y="310.4" width="1" height="1" fill="#f4a03a" fill-opacity="0.55"/><rect x="176.3" y="319.1" width="1" height="1" fill="#f9d49a" fill-opacity="0.82"/><rect x="203.1" y="316.5" width="1" height="1" fill="#e8642a" fill-opacity="0.72"/><rect x="177.9" y="313.6" width="1" height="1" fill="#e8642a" fill-opacity="0.79"/><rect x="173.9" y="313.1" width="1" height="1" fill="#f3c27a" fill-opacity="0.85"/><rect x="278.2" y="315.3" width="1" height="1" fill="#e8782a" fill-opacity="0.62"/><rect x="177.3" y="314.4" width="1" height="1" fill="#f6b860" fill-opacity="0.73"/><rect x="373.6" y="311.8" width="1" height="1" fill="#f3c27a" fill-opacity="0.82"/><rect x="133.5" y="319.0" width="1" height="1" fill="#e8642a" fill-opacity="0.71"/><rect x="143.9" y="310.8" width="1" height="1" fill="#e8782a" fill-opacity="0.68"/><rect x="176.6" y="314.7" width="1" height="1" fill="#e8782a" fill-opacity="0.71"/><rect x="180.6" y="319.2" width="1" height="1" fill="#ef8a2a" fill-opacity="0.85"/><rect x="449.3" y="313.5" width="1" height="1" fill="#f4a03a" fill-opacity="0.86"/><rect x="172.3" y="314.2" width="1" height="1" fill="#e8782a" fill-opacity="0.71"/><rect x="437.4" y="319.1" width="1" height="1" fill="#f9d49a" fill-opacity="0.66"/><rect x="162.1" y="310.2" width="1" height="1" fill="#e8782a" fill-opacity="0.65"/><rect x="206.3" y="314.7" width="1" height="1" fill="#e8642a" fill-opacity="0.79"/><rect x="178.4" y="312.5" width="1" height="1" fill="#f9d49a" fill-opacity="0.88"/><rect x="431.6" y="312.7" width="1" height="1" fill="#e8782a" fill-opacity="0.61"/><rect x="143.6" y="319.7" width="1" height="1" fill="#e8642a" fill-opacity="0.51"/><rect x="143.2" y="319.8" width="1" height="1" fill="#ef8a2a" fill-opacity="0.78"/><rect x="392.3" y="312.0" width="1" height="1" fill="#f9d49a" fill-opacity="0.87"/>
</svg>
</body></html>
